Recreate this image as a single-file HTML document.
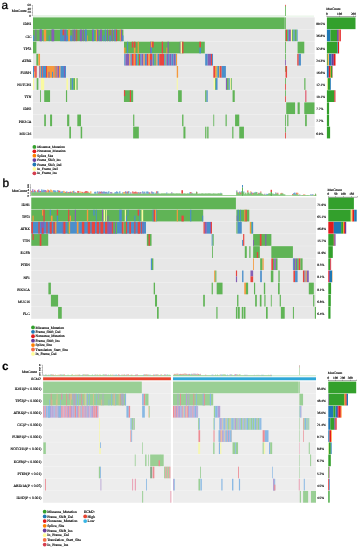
<!DOCTYPE html>
<html lang="en">
<head>
<meta charset="utf-8">
<title>Oncoplot figure</title>
<style>
html,body{margin:0;padding:0;background:#fff;}
body{width:359px;height:550px;overflow:hidden;}
svg{display:block;}
text{text-rendering:geometricPrecision;}
text.s{font-family:"Liberation Serif","DejaVu Serif",serif;fill:#000;stroke:#000;stroke-width:0.13px;}
text.n{font-family:"Liberation Sans","DejaVu Sans",sans-serif;fill:#000;stroke:#000;stroke-width:0.25px;}
</style>
</head>
<body>
<svg width="359" height="550" viewBox="0 0 359 550" shape-rendering="auto">
<defs><filter id="soft" x="0" y="0" width="359" height="550" filterUnits="userSpaceOnUse" color-interpolation-filters="sRGB"><feGaussianBlur stdDeviation="0.32"/></filter></defs>
<rect x="0" y="0" width="359" height="550" fill="#ffffff"/>
<g filter="url(#soft)">
<rect x="0" y="0" width="359" height="550" fill="#ffffff"/>
<text class="n" x="1.50" y="8.75" font-size="11.80" style="stroke-width:0.3px">a</text>
<rect x="32.45" y="5.20" width="0.30" height="10.60" fill="#333"/>
<rect x="31.70" y="5.08" width="0.90" height="0.25" fill="#333"/>
<text class="s" x="30.80" y="6.26" font-size="3.20" text-anchor="end">60</text>
<rect x="31.70" y="8.61" width="0.90" height="0.25" fill="#333"/>
<text class="s" x="30.80" y="9.79" font-size="3.20" text-anchor="end">40</text>
<rect x="31.70" y="12.15" width="0.90" height="0.25" fill="#333"/>
<text class="s" x="30.80" y="13.32" font-size="3.20" text-anchor="end">20</text>
<rect x="31.70" y="15.68" width="0.90" height="0.25" fill="#333"/>
<text class="s" x="30.80" y="16.86" font-size="3.20" text-anchor="end">0</text>
<text class="s" x="26.60" y="11.70" font-size="3.60" text-anchor="end">MutCount</text>
<rect x="33.00" y="15.75" width="252.00" height="0.50" fill="#9CD29A"/>
<rect x="285.00" y="6.00" width="0.80" height="10.10" fill="#60B456"/>
<rect x="285.00" y="4.80" width="0.80" height="1.40" fill="#E8453F"/>
<rect x="286.00" y="15.85" width="28.00" height="0.40" fill="#B8DFB6"/>
<rect x="33.00" y="17.41" width="281.60" height="121.00" fill="#F5F5F5"/>
<rect x="33.00" y="17.41" width="281.60" height="11.74" fill="#E7E7E7"/>
<rect x="33.00" y="17.41" width="251.70" height="11.74" fill="#60B456"/>
<rect x="285.00" y="17.41" width="0.80" height="11.74" fill="#60B456"/>
<rect x="33.00" y="29.55" width="281.60" height="11.74" fill="#E7E7E7"/>
<rect x="33.00" y="29.55" width="90.40" height="11.74" fill="#60B456"/>
<rect x="35.45" y="29.55" width="0.90" height="11.74" fill="#8560B5"/>
<rect x="40.20" y="29.55" width="0.90" height="11.74" fill="#8560B5"/>
<rect x="41.15" y="29.55" width="0.90" height="11.74" fill="#4A8FCB"/>
<rect x="43.05" y="35.42" width="0.90" height="5.87" fill="#4A8FCB"/>
<rect x="48.75" y="35.42" width="0.90" height="5.87" fill="#4A8FCB"/>
<rect x="51.60" y="29.55" width="0.90" height="11.74" fill="#8560B5"/>
<rect x="52.55" y="29.55" width="0.90" height="11.74" fill="#4A8FCB"/>
<rect x="65.85" y="29.55" width="0.90" height="11.74" fill="#4A8FCB"/>
<rect x="72.50" y="29.55" width="0.90" height="11.74" fill="#8560B5"/>
<rect x="76.30" y="29.55" width="0.90" height="11.74" fill="#E8453F"/>
<rect x="82.95" y="29.55" width="0.90" height="11.74" fill="#8560B5"/>
<rect x="84.85" y="29.55" width="0.90" height="11.74" fill="#8560B5"/>
<rect x="86.75" y="35.42" width="0.90" height="5.87" fill="#F59A3C"/>
<rect x="99.10" y="35.42" width="0.90" height="5.87" fill="#4A8FCB"/>
<rect x="102.90" y="35.42" width="0.90" height="5.87" fill="#4A8FCB"/>
<rect x="104.80" y="35.42" width="0.90" height="5.87" fill="#8560B5"/>
<rect x="109.55" y="29.55" width="0.90" height="11.74" fill="#E8453F"/>
<rect x="114.30" y="29.55" width="0.90" height="11.74" fill="#8560B5"/>
<rect x="120.00" y="35.42" width="0.90" height="5.87" fill="#4A8FCB"/>
<rect x="33.01" y="35.42" width="1.17" height="5.87" fill="#4A8FCB"/>
<rect x="39.53" y="29.55" width="2.17" height="11.74" fill="#8560B5"/>
<rect x="43.71" y="29.55" width="2.51" height="11.74" fill="#F59A3C"/>
<rect x="51.74" y="29.55" width="2.51" height="11.74" fill="#8560B5"/>
<rect x="60.10" y="29.55" width="2.51" height="11.74" fill="#4A8FCB"/>
<rect x="62.61" y="29.55" width="1.67" height="5.87" fill="#E8453F"/>
<rect x="62.61" y="35.42" width="1.67" height="5.87" fill="#4A8FCB"/>
<rect x="64.28" y="29.55" width="1.67" height="11.74" fill="#8560B5"/>
<rect x="65.95" y="35.42" width="2.17" height="5.87" fill="#4A8FCB"/>
<rect x="68.13" y="29.55" width="2.01" height="11.74" fill="#F59A3C"/>
<rect x="70.13" y="35.42" width="2.01" height="5.87" fill="#4A8FCB"/>
<rect x="73.81" y="29.55" width="1.67" height="11.74" fill="#8560B5"/>
<rect x="79.83" y="29.55" width="2.34" height="11.74" fill="#8560B5"/>
<rect x="85.18" y="29.55" width="1.67" height="11.74" fill="#4A8FCB"/>
<rect x="92.01" y="29.55" width="1.00" height="11.74" fill="#8560B5"/>
<rect x="93.01" y="29.55" width="1.17" height="11.74" fill="#4A8FCB"/>
<rect x="95.85" y="29.55" width="1.17" height="11.74" fill="#F59A3C"/>
<rect x="97.02" y="29.55" width="1.34" height="11.74" fill="#8560B5"/>
<rect x="100.03" y="29.55" width="2.01" height="11.74" fill="#8560B5"/>
<rect x="104.72" y="29.55" width="1.17" height="11.74" fill="#4A8FCB"/>
<rect x="107.06" y="29.55" width="1.00" height="11.74" fill="#8560B5"/>
<rect x="109.23" y="35.42" width="1.67" height="5.87" fill="#4A8FCB"/>
<rect x="111.74" y="29.55" width="1.17" height="11.74" fill="#8560B5"/>
<rect x="114.75" y="29.55" width="1.17" height="11.74" fill="#4A8FCB"/>
<rect x="115.92" y="29.55" width="1.17" height="11.74" fill="#E8453F"/>
<rect x="119.77" y="29.55" width="1.17" height="11.74" fill="#F59A3C"/>
<rect x="120.94" y="29.55" width="1.17" height="11.74" fill="#8560B5"/>
<rect x="122.11" y="35.42" width="1.34" height="5.87" fill="#4A8FCB"/>
<rect x="285.05" y="29.55" width="0.84" height="11.74" fill="#60B456"/>
<rect x="285.89" y="29.55" width="1.17" height="11.74" fill="#E8453F"/>
<rect x="287.06" y="29.55" width="1.00" height="11.74" fill="#60B456"/>
<rect x="288.06" y="29.55" width="0.84" height="11.74" fill="#4A8FCB"/>
<rect x="288.90" y="29.55" width="2.01" height="11.74" fill="#8560B5"/>
<rect x="290.90" y="29.55" width="1.17" height="11.74" fill="#FAFAA0"/>
<rect x="292.07" y="29.55" width="1.34" height="11.74" fill="#60B456"/>
<rect x="293.41" y="29.55" width="1.34" height="11.74" fill="#4A8FCB"/>
<rect x="294.75" y="29.55" width="2.01" height="11.74" fill="#60B456"/>
<rect x="296.76" y="29.55" width="0.84" height="11.74" fill="#4A8FCB"/>
<rect x="33.00" y="41.69" width="281.60" height="11.74" fill="#E7E7E7"/>
<rect x="33.00" y="41.69" width="3.40" height="11.74" fill="#60B456"/>
<rect x="124.00" y="41.69" width="80.80" height="11.74" fill="#60B456"/>
<rect x="123.95" y="47.56" width="1.51" height="5.87" fill="#F59A3C"/>
<rect x="127.12" y="41.69" width="1.00" height="11.74" fill="#4A8FCB"/>
<rect x="131.81" y="41.69" width="1.34" height="5.87" fill="#E8453F"/>
<rect x="133.81" y="47.56" width="1.67" height="5.87" fill="#F59A3C"/>
<rect x="133.81" y="41.69" width="1.67" height="5.87" fill="#E8453F"/>
<rect x="137.66" y="41.69" width="1.17" height="11.74" fill="#F59A3C"/>
<rect x="150.00" y="41.69" width="0.84" height="11.74" fill="#8560B5"/>
<rect x="150.84" y="41.69" width="1.17" height="5.87" fill="#F59A3C"/>
<rect x="150.84" y="47.56" width="1.17" height="5.87" fill="#4A8FCB"/>
<rect x="152.01" y="41.69" width="1.67" height="5.87" fill="#E8453F"/>
<rect x="161.71" y="41.69" width="1.34" height="11.74" fill="#E8453F"/>
<rect x="166.39" y="47.56" width="1.17" height="5.87" fill="#F59A3C"/>
<rect x="167.56" y="41.69" width="1.17" height="11.74" fill="#8560B5"/>
<rect x="179.77" y="41.69" width="0.84" height="11.74" fill="#8560B5"/>
<rect x="180.60" y="41.69" width="1.34" height="11.74" fill="#FAFAA0"/>
<rect x="182.11" y="41.69" width="1.34" height="11.74" fill="#E8453F"/>
<rect x="199.33" y="41.69" width="1.67" height="5.87" fill="#E8453F"/>
<rect x="199.33" y="47.56" width="1.67" height="5.87" fill="#4A8FCB"/>
<rect x="285.05" y="41.69" width="0.84" height="11.74" fill="#60B456"/>
<rect x="297.59" y="41.69" width="6.69" height="11.74" fill="#60B456"/>
<rect x="33.00" y="53.83" width="281.60" height="11.74" fill="#E7E7E7"/>
<rect x="36.35" y="53.83" width="2.01" height="11.74" fill="#60B456"/>
<rect x="38.36" y="53.83" width="1.67" height="11.74" fill="#F59A3C"/>
<rect x="124.28" y="53.83" width="1.17" height="11.74" fill="#4A8FCB"/>
<rect x="125.45" y="53.83" width="3.85" height="11.74" fill="#8560B5"/>
<rect x="129.30" y="53.83" width="1.17" height="11.74" fill="#F59A3C"/>
<rect x="130.47" y="53.83" width="1.34" height="11.74" fill="#4A8FCB"/>
<rect x="131.81" y="53.83" width="2.01" height="11.74" fill="#E8453F"/>
<rect x="133.81" y="53.83" width="1.34" height="11.74" fill="#F59A3C"/>
<rect x="135.15" y="53.83" width="0.84" height="11.74" fill="#E8453F"/>
<rect x="135.99" y="53.83" width="1.67" height="11.74" fill="#4A8FCB"/>
<rect x="137.66" y="53.83" width="1.34" height="11.74" fill="#60B456"/>
<rect x="139.00" y="53.83" width="1.17" height="11.74" fill="#E8453F"/>
<rect x="140.17" y="53.83" width="1.34" height="11.74" fill="#4A8FCB"/>
<rect x="141.51" y="53.83" width="2.01" height="11.74" fill="#8560B5"/>
<rect x="143.51" y="53.83" width="1.34" height="11.74" fill="#F59A3C"/>
<rect x="144.85" y="53.83" width="2.01" height="11.74" fill="#4A8FCB"/>
<rect x="146.86" y="53.83" width="1.67" height="11.74" fill="#E8453F"/>
<rect x="148.53" y="53.83" width="1.67" height="11.74" fill="#F59A3C"/>
<rect x="150.00" y="53.83" width="2.51" height="11.74" fill="#E8453F"/>
<rect x="150.00" y="59.70" width="1.67" height="5.87" fill="#8560B5"/>
<rect x="152.51" y="53.83" width="1.67" height="11.74" fill="#4A8FCB"/>
<rect x="154.18" y="53.83" width="1.67" height="11.74" fill="#60B456"/>
<rect x="155.85" y="53.83" width="0.50" height="11.74" fill="#8560B5"/>
<rect x="156.35" y="53.83" width="1.17" height="11.74" fill="#F59A3C"/>
<rect x="157.53" y="53.83" width="1.67" height="11.74" fill="#4A8FCB"/>
<rect x="159.20" y="53.83" width="5.02" height="11.74" fill="#E8453F"/>
<rect x="164.21" y="53.83" width="1.17" height="11.74" fill="#4A8FCB"/>
<rect x="165.38" y="53.83" width="1.00" height="11.74" fill="#60B456"/>
<rect x="166.39" y="53.83" width="1.67" height="11.74" fill="#8560B5"/>
<rect x="168.06" y="53.83" width="1.17" height="11.74" fill="#4A8FCB"/>
<rect x="169.23" y="53.83" width="2.17" height="11.74" fill="#8560B5"/>
<rect x="171.40" y="53.83" width="2.01" height="11.74" fill="#4A8FCB"/>
<rect x="173.41" y="53.83" width="1.67" height="11.74" fill="#8560B5"/>
<rect x="175.08" y="53.83" width="0.84" height="11.74" fill="#4A8FCB"/>
<rect x="175.92" y="53.83" width="1.17" height="11.74" fill="#F59A3C"/>
<rect x="205.18" y="53.83" width="2.51" height="11.74" fill="#4A8FCB"/>
<rect x="207.69" y="53.83" width="2.51" height="11.74" fill="#8560B5"/>
<rect x="210.00" y="53.83" width="1.00" height="11.74" fill="#8560B5"/>
<rect x="211.00" y="53.83" width="1.00" height="11.74" fill="#E8453F"/>
<rect x="212.01" y="53.83" width="1.00" height="11.74" fill="#4A8FCB"/>
<rect x="285.05" y="53.83" width="0.84" height="5.87" fill="#60B456"/>
<rect x="285.05" y="59.70" width="0.84" height="5.87" fill="#8560B5"/>
<rect x="297.26" y="53.83" width="1.51" height="11.74" fill="#E8453F"/>
<rect x="298.76" y="53.83" width="2.17" height="11.74" fill="#4A8FCB"/>
<rect x="33.00" y="65.97" width="281.60" height="11.74" fill="#E7E7E7"/>
<rect x="33.00" y="65.97" width="1.20" height="11.74" fill="#4A8FCB"/>
<rect x="34.20" y="65.97" width="1.00" height="5.87" fill="#E8453F"/>
<rect x="34.20" y="71.84" width="1.00" height="5.87" fill="#F59A3C"/>
<rect x="35.20" y="65.97" width="1.50" height="11.74" fill="#E8453F"/>
<rect x="39.00" y="65.97" width="0.80" height="11.74" fill="#8560B5"/>
<rect x="39.80" y="65.97" width="1.00" height="11.74" fill="#F59A3C"/>
<rect x="40.80" y="65.97" width="1.20" height="11.74" fill="#4A8FCB"/>
<rect x="42.00" y="65.97" width="0.80" height="11.74" fill="#E8453F"/>
<rect x="42.80" y="65.97" width="3.20" height="11.74" fill="#4A8FCB"/>
<rect x="46.00" y="65.97" width="1.00" height="11.74" fill="#E8453F"/>
<rect x="47.00" y="65.97" width="7.50" height="11.74" fill="#F59A3C"/>
<rect x="48.50" y="71.84" width="1.00" height="5.87" fill="#8560B5"/>
<rect x="52.00" y="71.84" width="1.00" height="5.87" fill="#4A8FCB"/>
<rect x="54.50" y="65.97" width="1.00" height="11.74" fill="#E8453F"/>
<rect x="55.50" y="65.97" width="0.90" height="11.74" fill="#60B456"/>
<rect x="56.40" y="65.97" width="1.10" height="11.74" fill="#E8453F"/>
<rect x="57.50" y="65.97" width="1.50" height="11.74" fill="#8560B5"/>
<rect x="59.00" y="65.97" width="1.50" height="11.74" fill="#F59A3C"/>
<rect x="60.50" y="65.97" width="3.50" height="11.74" fill="#4A8FCB"/>
<rect x="64.00" y="65.97" width="1.00" height="11.74" fill="#8560B5"/>
<rect x="65.00" y="65.97" width="1.00" height="11.74" fill="#4A8FCB"/>
<rect x="176.76" y="65.97" width="1.34" height="11.74" fill="#F59A3C"/>
<rect x="213.34" y="65.97" width="1.67" height="11.74" fill="#E8453F"/>
<rect x="215.02" y="65.97" width="1.67" height="11.74" fill="#F59A3C"/>
<rect x="216.69" y="65.97" width="0.84" height="11.74" fill="#60B456"/>
<rect x="217.53" y="65.97" width="1.67" height="11.74" fill="#4A8FCB"/>
<rect x="219.20" y="65.97" width="0.84" height="11.74" fill="#F59A3C"/>
<rect x="220.03" y="65.97" width="1.67" height="11.74" fill="#E8453F"/>
<rect x="221.71" y="65.97" width="4.18" height="11.74" fill="#4A8FCB"/>
<rect x="285.05" y="65.97" width="0.84" height="5.87" fill="#60B456"/>
<rect x="285.55" y="65.97" width="1.51" height="11.74" fill="#E8453F"/>
<rect x="33.00" y="78.11" width="281.60" height="11.74" fill="#E7E7E7"/>
<rect x="33.01" y="78.11" width="1.17" height="11.74" fill="#FAFAA0"/>
<rect x="36.69" y="78.11" width="1.67" height="11.74" fill="#60B456"/>
<rect x="40.87" y="78.11" width="3.34" height="11.74" fill="#FAFAA0"/>
<rect x="66.45" y="78.11" width="1.67" height="11.74" fill="#FAFAA0"/>
<rect x="70.13" y="78.11" width="1.67" height="11.74" fill="#60B456"/>
<rect x="71.81" y="78.11" width="1.34" height="11.74" fill="#4A8FCB"/>
<rect x="73.14" y="78.11" width="2.01" height="11.74" fill="#60B456"/>
<rect x="75.15" y="78.11" width="1.34" height="11.74" fill="#FAFAA0"/>
<rect x="76.49" y="78.11" width="1.17" height="11.74" fill="#60B456"/>
<rect x="176.76" y="78.11" width="1.00" height="11.74" fill="#FAFAA0"/>
<rect x="213.68" y="78.11" width="1.34" height="11.74" fill="#FAFAA0"/>
<rect x="215.02" y="78.11" width="0.84" height="11.74" fill="#60B456"/>
<rect x="215.85" y="78.11" width="1.67" height="11.74" fill="#4A8FCB"/>
<rect x="225.89" y="78.11" width="1.17" height="11.74" fill="#8560B5"/>
<rect x="227.06" y="78.11" width="1.67" height="11.74" fill="#60B456"/>
<rect x="228.73" y="78.11" width="1.00" height="11.74" fill="#4A8FCB"/>
<rect x="230.07" y="78.11" width="0.84" height="11.74" fill="#FAFAA0"/>
<rect x="230.90" y="78.11" width="0.84" height="11.74" fill="#60B456"/>
<rect x="285.05" y="78.11" width="0.84" height="5.87" fill="#60B456"/>
<rect x="285.05" y="83.98" width="0.84" height="5.87" fill="#E8453F"/>
<rect x="304.28" y="78.11" width="1.17" height="11.74" fill="#60B456"/>
<rect x="33.00" y="90.25" width="281.60" height="11.74" fill="#E7E7E7"/>
<rect x="40.03" y="90.25" width="0.84" height="11.74" fill="#60B456"/>
<rect x="44.21" y="90.25" width="5.85" height="11.74" fill="#60B456"/>
<rect x="65.95" y="90.25" width="1.17" height="11.74" fill="#60B456"/>
<rect x="123.95" y="90.25" width="9.20" height="11.74" fill="#60B456"/>
<rect x="123.95" y="90.25" width="1.17" height="5.87" fill="#E8453F"/>
<rect x="129.80" y="90.25" width="1.17" height="11.74" fill="#E8453F"/>
<rect x="178.09" y="90.25" width="3.68" height="11.74" fill="#60B456"/>
<rect x="205.18" y="90.25" width="1.34" height="11.74" fill="#60B456"/>
<rect x="206.52" y="90.25" width="1.17" height="11.74" fill="#4A8FCB"/>
<rect x="232.58" y="90.25" width="2.17" height="11.74" fill="#60B456"/>
<rect x="285.05" y="90.25" width="0.84" height="5.87" fill="#60B456"/>
<rect x="285.05" y="96.12" width="0.84" height="5.87" fill="#E8453F"/>
<rect x="305.12" y="90.25" width="1.34" height="11.74" fill="#E26A7C"/>
<rect x="33.00" y="102.39" width="281.60" height="11.74" fill="#E7E7E7"/>
<rect x="286.22" y="102.39" width="8.86" height="11.74" fill="#60B456"/>
<rect x="297.59" y="102.39" width="2.17" height="11.74" fill="#60B456"/>
<rect x="304.28" y="102.39" width="10.20" height="11.74" fill="#60B456"/>
<rect x="33.00" y="114.53" width="281.60" height="11.74" fill="#E7E7E7"/>
<rect x="44.21" y="114.53" width="1.67" height="11.74" fill="#60B456"/>
<rect x="50.07" y="114.53" width="2.01" height="11.74" fill="#60B456"/>
<rect x="67.12" y="114.53" width="2.17" height="11.74" fill="#60B456"/>
<rect x="77.32" y="114.53" width="3.68" height="11.74" fill="#60B456"/>
<rect x="133.14" y="114.53" width="1.17" height="11.74" fill="#60B456"/>
<rect x="182.11" y="114.53" width="1.34" height="11.74" fill="#60B456"/>
<rect x="213.34" y="114.53" width="0.84" height="11.74" fill="#60B456"/>
<rect x="225.55" y="114.53" width="1.17" height="11.74" fill="#60B456"/>
<rect x="235.08" y="114.53" width="4.18" height="11.74" fill="#60B456"/>
<rect x="285.05" y="114.53" width="0.84" height="11.74" fill="#60B456"/>
<rect x="287.22" y="114.53" width="1.17" height="11.74" fill="#60B456"/>
<rect x="305.12" y="114.53" width="1.67" height="11.74" fill="#60B456"/>
<rect x="33.00" y="126.67" width="281.60" height="11.74" fill="#E7E7E7"/>
<rect x="69.30" y="126.67" width="1.67" height="11.74" fill="#60B456"/>
<rect x="80.67" y="126.67" width="1.51" height="11.74" fill="#60B456"/>
<rect x="133.14" y="126.67" width="5.69" height="11.74" fill="#60B456"/>
<rect x="183.44" y="126.67" width="2.01" height="11.74" fill="#60B456"/>
<rect x="205.18" y="126.67" width="1.17" height="11.74" fill="#60B456"/>
<rect x="207.19" y="126.67" width="1.34" height="11.74" fill="#60B456"/>
<rect x="232.24" y="126.67" width="1.17" height="11.74" fill="#60B456"/>
<rect x="239.26" y="126.67" width="4.68" height="11.74" fill="#60B456"/>
<rect x="285.05" y="126.67" width="0.84" height="5.87" fill="#60B456"/>
<rect x="285.05" y="132.54" width="0.84" height="5.87" fill="#E8453F"/>
<text class="s" x="31.40" y="25.42" font-size="3.60" text-anchor="end">IDH1</text>
<text class="s" x="31.40" y="37.56" font-size="3.60" text-anchor="end">CIC</text>
<text class="s" x="31.40" y="49.70" font-size="3.60" text-anchor="end">TP53</text>
<text class="s" x="31.40" y="61.84" font-size="3.60" text-anchor="end">ATRX</text>
<text class="s" x="31.40" y="73.98" font-size="3.60" text-anchor="end">FUBP1</text>
<text class="s" x="31.40" y="86.12" font-size="3.60" text-anchor="end">NOTCH1</text>
<text class="s" x="31.40" y="98.26" font-size="3.60" text-anchor="end">TTN</text>
<text class="s" x="31.40" y="110.40" font-size="3.60" text-anchor="end">IDH2</text>
<text class="s" x="31.40" y="122.54" font-size="3.60" text-anchor="end">PIK3CA</text>
<text class="s" x="31.40" y="134.68" font-size="3.60" text-anchor="end">MUC16</text>
<text class="s" x="316.30" y="25.35" font-size="3.40">89.5%</text>
<text class="s" x="316.30" y="37.49" font-size="3.40">36.8%</text>
<text class="s" x="316.30" y="49.63" font-size="3.40">32.8%</text>
<text class="s" x="316.30" y="61.77" font-size="3.40">24.3%</text>
<text class="s" x="316.30" y="73.91" font-size="3.40">16.6%</text>
<text class="s" x="316.30" y="86.05" font-size="3.40">12.1%</text>
<text class="s" x="316.30" y="98.19" font-size="3.40">10.1%</text>
<text class="s" x="316.30" y="110.33" font-size="3.40">7.7%</text>
<text class="s" x="316.30" y="122.47" font-size="3.40">7.7%</text>
<text class="s" x="316.30" y="134.61" font-size="3.40">6.9%</text>
<rect x="326.90" y="17.41" width="28.60" height="11.74" fill="#33A02C"/>
<rect x="326.90" y="29.55" width="3.50" height="11.74" fill="#1F78B4"/>
<rect x="330.40" y="29.55" width="6.70" height="11.74" fill="#33A02C"/>
<rect x="337.10" y="29.55" width="1.70" height="11.74" fill="#6A3D9A"/>
<rect x="338.80" y="29.55" width="0.70" height="11.74" fill="#FF7F00"/>
<rect x="339.50" y="29.55" width="1.30" height="11.74" fill="#E31A1C"/>
<rect x="326.90" y="41.69" width="10.60" height="11.74" fill="#33A02C"/>
<rect x="337.50" y="41.69" width="0.50" height="11.74" fill="#1F78B4"/>
<rect x="338.00" y="41.69" width="1.10" height="11.74" fill="#E31A1C"/>
<rect x="326.90" y="53.83" width="0.90" height="11.74" fill="#33A02C"/>
<rect x="327.80" y="53.83" width="0.90" height="11.74" fill="#FF7F00"/>
<rect x="328.70" y="53.83" width="0.30" height="11.74" fill="#F4F48C"/>
<rect x="329.00" y="53.83" width="2.60" height="11.74" fill="#1F78B4"/>
<rect x="331.60" y="53.83" width="2.20" height="11.74" fill="#6A3D9A"/>
<rect x="333.80" y="53.83" width="1.70" height="11.74" fill="#E31A1C"/>
<rect x="326.90" y="65.97" width="1.90" height="11.74" fill="#1F78B4"/>
<rect x="328.80" y="65.97" width="1.20" height="11.74" fill="#E31A1C"/>
<rect x="330.00" y="65.97" width="0.80" height="11.74" fill="#FF7F00"/>
<rect x="330.80" y="65.97" width="1.50" height="11.74" fill="#33A02C"/>
<rect x="332.30" y="65.97" width="0.40" height="11.74" fill="#D53E4F"/>
<rect x="326.90" y="78.11" width="0.90" height="11.74" fill="#F4F48C"/>
<rect x="327.80" y="78.11" width="2.20" height="11.74" fill="#33A02C"/>
<rect x="330.00" y="78.11" width="0.80" height="11.74" fill="#1F78B4"/>
<rect x="326.90" y="90.25" width="7.50" height="11.74" fill="#33A02C"/>
<rect x="334.40" y="90.25" width="0.60" height="11.74" fill="#E31A1C"/>
<rect x="335.00" y="90.25" width="0.50" height="11.74" fill="#D53E4F"/>
<rect x="326.90" y="102.39" width="2.20" height="11.74" fill="#33A02C"/>
<rect x="326.90" y="114.53" width="2.20" height="11.74" fill="#33A02C"/>
<rect x="326.90" y="126.67" width="3.20" height="11.74" fill="#33A02C"/>
<rect x="326.70" y="16.40" width="29.20" height="0.40" fill="#333"/>
<rect x="355.70" y="15.60" width="0.35" height="1.00" fill="#333"/>
<rect x="326.75" y="15.60" width="0.35" height="1.00" fill="#333"/>
<text class="s" x="326.90" y="14.50" font-size="3.30" text-anchor="middle">0</text>
<rect x="339.45" y="15.60" width="0.35" height="1.00" fill="#333"/>
<text class="s" x="339.60" y="14.50" font-size="3.30" text-anchor="middle">100</text>
<rect x="353.25" y="15.60" width="0.35" height="1.00" fill="#333"/>
<text class="s" x="353.40" y="14.50" font-size="3.30" text-anchor="middle">200</text>
<text class="s" x="326.20" y="10.00" font-size="3.50">MutCount</text>
<circle cx="34.40" cy="146.90" r="1.90" fill="#33A02C"/>
<text class="s" x="37.20" y="148.02" font-size="3.50">Missense_Mutation</text>
<circle cx="34.40" cy="151.30" r="1.90" fill="#E31A1C"/>
<text class="s" x="37.20" y="152.42" font-size="3.50">Nonsense_Mutation</text>
<circle cx="34.40" cy="155.70" r="1.90" fill="#FF7F00"/>
<text class="s" x="37.20" y="156.82" font-size="3.50">Splice_Site</text>
<circle cx="34.40" cy="160.10" r="1.90" fill="#6A3D9A"/>
<text class="s" x="37.20" y="161.22" font-size="3.50">Frame_Shift_Ins</text>
<circle cx="34.40" cy="164.50" r="1.90" fill="#1F78B4"/>
<text class="s" x="37.20" y="165.62" font-size="3.50">Frame_Shift_Del</text>
<circle cx="34.40" cy="168.90" r="1.90" fill="#FFFF99"/>
<text class="s" x="37.20" y="170.02" font-size="3.50">In_Frame_Del</text>
<circle cx="34.40" cy="173.30" r="1.90" fill="#D53E4F"/>
<text class="s" x="37.20" y="174.42" font-size="3.50">In_Frame_Ins</text>
<text class="n" x="2.40" y="187.30" font-size="11.90" style="stroke-width:0.35px">b</text>
<rect x="30.55" y="184.60" width="0.30" height="11.20" fill="#333"/>
<rect x="29.80" y="184.48" width="0.90" height="0.25" fill="#333"/>
<text class="s" x="28.90" y="185.56" font-size="2.90" text-anchor="end">8</text>
<rect x="29.80" y="187.28" width="0.90" height="0.25" fill="#333"/>
<text class="s" x="28.90" y="188.36" font-size="2.90" text-anchor="end">6</text>
<rect x="29.80" y="190.08" width="0.90" height="0.25" fill="#333"/>
<text class="s" x="28.90" y="191.16" font-size="2.90" text-anchor="end">4</text>
<rect x="29.80" y="192.88" width="0.90" height="0.25" fill="#333"/>
<text class="s" x="28.90" y="193.96" font-size="2.90" text-anchor="end">2</text>
<rect x="29.80" y="195.68" width="0.90" height="0.25" fill="#333"/>
<text class="s" x="28.90" y="196.76" font-size="2.90" text-anchor="end">0</text>
<text class="s" x="26.70" y="192.10" font-size="3.60" text-anchor="end">MutCount</text>
<rect x="31.30" y="192.02" width="1.05" height="3.78" fill="#60B456"/>
<rect x="31.30" y="190.90" width="1.05" height="1.12" fill="#E8453F"/>
<rect x="32.30" y="192.36" width="1.05" height="3.44" fill="#60B456"/>
<rect x="32.30" y="189.18" width="1.05" height="3.18" fill="#8560B5"/>
<rect x="33.30" y="192.39" width="1.05" height="3.41" fill="#60B456"/>
<rect x="33.30" y="191.22" width="1.05" height="1.17" fill="#4A8FCB"/>
<rect x="34.30" y="192.18" width="1.05" height="3.62" fill="#60B456"/>
<rect x="34.30" y="189.82" width="1.05" height="2.36" fill="#E8453F"/>
<rect x="35.30" y="192.15" width="1.05" height="3.65" fill="#60B456"/>
<rect x="35.30" y="191.00" width="1.05" height="1.15" fill="#4A8FCB"/>
<rect x="36.30" y="192.24" width="1.05" height="3.56" fill="#60B456"/>
<rect x="37.30" y="192.18" width="1.05" height="3.62" fill="#60B456"/>
<rect x="37.30" y="190.17" width="1.05" height="2.01" fill="#E8453F"/>
<rect x="38.30" y="192.35" width="1.05" height="3.45" fill="#60B456"/>
<rect x="38.30" y="189.39" width="1.05" height="2.96" fill="#8560B5"/>
<rect x="39.30" y="192.36" width="1.05" height="3.44" fill="#60B456"/>
<rect x="39.30" y="190.91" width="1.05" height="1.45" fill="#4A8FCB"/>
<rect x="40.30" y="192.18" width="1.05" height="3.62" fill="#60B456"/>
<rect x="40.30" y="191.04" width="1.05" height="1.14" fill="#E8453F"/>
<rect x="41.30" y="192.20" width="1.05" height="3.60" fill="#60B456"/>
<rect x="41.30" y="189.34" width="1.05" height="2.87" fill="#4A8FCB"/>
<rect x="42.30" y="192.17" width="1.05" height="3.63" fill="#60B456"/>
<rect x="42.30" y="190.45" width="1.05" height="1.72" fill="#4A8FCB"/>
<rect x="43.30" y="192.12" width="1.05" height="3.68" fill="#60B456"/>
<rect x="43.30" y="189.74" width="1.05" height="2.38" fill="#4A8FCB"/>
<rect x="44.30" y="192.20" width="1.05" height="3.60" fill="#60B456"/>
<rect x="44.30" y="190.12" width="1.05" height="2.08" fill="#8560B5"/>
<rect x="45.30" y="192.01" width="1.05" height="3.79" fill="#60B456"/>
<rect x="45.30" y="190.00" width="1.05" height="2.00" fill="#8560B5"/>
<rect x="46.30" y="192.34" width="1.05" height="3.46" fill="#60B456"/>
<rect x="46.30" y="191.25" width="1.05" height="1.09" fill="#E8453F"/>
<rect x="47.30" y="192.37" width="1.05" height="3.43" fill="#60B456"/>
<rect x="47.30" y="189.48" width="1.05" height="2.89" fill="#F59A3C"/>
<rect x="48.30" y="192.26" width="1.05" height="3.54" fill="#60B456"/>
<rect x="48.30" y="190.07" width="1.05" height="2.19" fill="#E8453F"/>
<rect x="49.30" y="192.37" width="1.05" height="3.43" fill="#60B456"/>
<rect x="49.30" y="190.72" width="1.05" height="1.65" fill="#4A8FCB"/>
<rect x="50.30" y="192.13" width="1.05" height="3.67" fill="#60B456"/>
<rect x="50.30" y="189.45" width="1.05" height="2.68" fill="#F59A3C"/>
<rect x="51.30" y="192.17" width="1.05" height="3.63" fill="#60B456"/>
<rect x="51.30" y="190.10" width="1.05" height="2.07" fill="#F59A3C"/>
<rect x="52.30" y="192.25" width="1.05" height="3.55" fill="#60B456"/>
<rect x="52.30" y="191.19" width="1.05" height="1.05" fill="#F59A3C"/>
<rect x="53.30" y="192.26" width="1.05" height="3.54" fill="#60B456"/>
<rect x="53.30" y="190.07" width="1.05" height="2.18" fill="#4A8FCB"/>
<rect x="54.30" y="192.09" width="1.05" height="3.71" fill="#60B456"/>
<rect x="54.30" y="190.50" width="1.05" height="1.59" fill="#4A8FCB"/>
<rect x="55.30" y="192.03" width="1.05" height="3.77" fill="#60B456"/>
<rect x="55.30" y="190.63" width="1.05" height="1.40" fill="#4A8FCB"/>
<rect x="56.30" y="192.18" width="1.05" height="3.62" fill="#60B456"/>
<rect x="57.30" y="192.05" width="1.05" height="3.75" fill="#60B456"/>
<rect x="57.30" y="190.06" width="1.05" height="2.00" fill="#4A8FCB"/>
<rect x="58.30" y="192.13" width="1.05" height="3.67" fill="#60B456"/>
<rect x="58.30" y="190.57" width="1.05" height="1.55" fill="#E8453F"/>
<rect x="59.30" y="192.33" width="1.05" height="3.47" fill="#60B456"/>
<rect x="59.30" y="190.77" width="1.05" height="1.56" fill="#E8453F"/>
<rect x="60.30" y="192.77" width="1.05" height="3.03" fill="#60B456"/>
<rect x="60.30" y="191.72" width="1.05" height="1.05" fill="#4A8FCB"/>
<rect x="61.30" y="192.93" width="1.05" height="2.87" fill="#60B456"/>
<rect x="61.30" y="191.43" width="1.05" height="1.51" fill="#4A8FCB"/>
<rect x="62.30" y="192.82" width="1.05" height="2.98" fill="#60B456"/>
<rect x="62.30" y="191.24" width="1.05" height="1.59" fill="#4A8FCB"/>
<rect x="63.30" y="192.80" width="1.05" height="3.00" fill="#60B456"/>
<rect x="63.30" y="190.81" width="1.05" height="1.99" fill="#F59A3C"/>
<rect x="64.30" y="192.78" width="1.05" height="3.02" fill="#60B456"/>
<rect x="64.30" y="191.54" width="1.05" height="1.24" fill="#F59A3C"/>
<rect x="65.30" y="192.91" width="1.05" height="2.89" fill="#60B456"/>
<rect x="65.30" y="192.00" width="1.05" height="0.90" fill="#E8453F"/>
<rect x="66.30" y="192.92" width="1.05" height="2.88" fill="#60B456"/>
<rect x="66.30" y="191.36" width="1.05" height="1.56" fill="#4A8FCB"/>
<rect x="67.30" y="193.10" width="1.05" height="2.70" fill="#60B456"/>
<rect x="67.30" y="192.34" width="1.05" height="0.76" fill="#E8453F"/>
<rect x="68.30" y="192.85" width="1.05" height="2.95" fill="#60B456"/>
<rect x="68.30" y="191.92" width="1.05" height="0.93" fill="#E8453F"/>
<rect x="69.30" y="193.04" width="1.05" height="2.76" fill="#60B456"/>
<rect x="69.30" y="191.88" width="1.05" height="1.16" fill="#4A8FCB"/>
<rect x="70.30" y="192.91" width="1.05" height="2.89" fill="#60B456"/>
<rect x="70.30" y="191.53" width="1.05" height="1.38" fill="#E8453F"/>
<rect x="71.30" y="192.91" width="1.05" height="2.89" fill="#60B456"/>
<rect x="71.30" y="192.08" width="1.05" height="0.83" fill="#4A8FCB"/>
<rect x="72.30" y="192.96" width="1.05" height="2.84" fill="#60B456"/>
<rect x="72.30" y="191.04" width="1.05" height="1.93" fill="#F59A3C"/>
<rect x="73.30" y="192.89" width="1.05" height="2.91" fill="#60B456"/>
<rect x="73.30" y="190.77" width="1.05" height="2.12" fill="#4A8FCB"/>
<rect x="74.30" y="193.04" width="1.05" height="2.76" fill="#60B456"/>
<rect x="74.30" y="192.40" width="1.05" height="0.64" fill="#E8453F"/>
<rect x="75.30" y="192.98" width="1.05" height="2.82" fill="#60B456"/>
<rect x="75.30" y="192.24" width="1.05" height="0.75" fill="#8560B5"/>
<rect x="76.30" y="192.89" width="1.05" height="2.91" fill="#60B456"/>
<rect x="77.30" y="192.79" width="1.05" height="3.01" fill="#60B456"/>
<rect x="77.30" y="190.94" width="1.05" height="1.85" fill="#E8453F"/>
<rect x="78.30" y="192.85" width="1.05" height="2.95" fill="#60B456"/>
<rect x="78.30" y="190.98" width="1.05" height="1.86" fill="#E8453F"/>
<rect x="79.30" y="192.78" width="1.05" height="3.02" fill="#60B456"/>
<rect x="80.30" y="192.78" width="1.05" height="3.02" fill="#60B456"/>
<rect x="80.30" y="191.39" width="1.05" height="1.39" fill="#F59A3C"/>
<rect x="81.30" y="193.09" width="1.05" height="2.71" fill="#60B456"/>
<rect x="81.30" y="192.04" width="1.05" height="1.05" fill="#F59A3C"/>
<rect x="82.30" y="193.02" width="1.05" height="2.78" fill="#60B456"/>
<rect x="82.30" y="191.87" width="1.05" height="1.15" fill="#E8453F"/>
<rect x="83.30" y="192.70" width="1.05" height="3.10" fill="#60B456"/>
<rect x="84.30" y="193.07" width="1.05" height="2.73" fill="#60B456"/>
<rect x="84.30" y="191.72" width="1.05" height="1.35" fill="#E8453F"/>
<rect x="85.30" y="193.02" width="1.05" height="2.78" fill="#60B456"/>
<rect x="85.30" y="190.98" width="1.05" height="2.04" fill="#E8453F"/>
<rect x="86.30" y="192.91" width="1.05" height="2.89" fill="#60B456"/>
<rect x="86.30" y="191.03" width="1.05" height="1.88" fill="#E8453F"/>
<rect x="87.30" y="192.77" width="1.05" height="3.03" fill="#60B456"/>
<rect x="87.30" y="191.54" width="1.05" height="1.22" fill="#E8453F"/>
<rect x="88.30" y="192.80" width="1.05" height="3.00" fill="#60B456"/>
<rect x="88.30" y="191.91" width="1.05" height="0.89" fill="#F59A3C"/>
<rect x="89.30" y="192.97" width="1.05" height="2.83" fill="#60B456"/>
<rect x="90.30" y="193.58" width="1.05" height="2.22" fill="#60B456"/>
<rect x="90.30" y="191.27" width="1.05" height="2.31" fill="#F59A3C"/>
<rect x="91.30" y="193.65" width="1.05" height="2.15" fill="#60B456"/>
<rect x="92.30" y="193.65" width="1.05" height="2.15" fill="#60B456"/>
<rect x="93.30" y="193.66" width="1.05" height="2.14" fill="#60B456"/>
<rect x="94.30" y="193.50" width="1.05" height="2.30" fill="#60B456"/>
<rect x="94.30" y="191.82" width="1.05" height="1.68" fill="#4A8FCB"/>
<rect x="95.30" y="193.69" width="1.05" height="2.11" fill="#60B456"/>
<rect x="95.30" y="191.73" width="1.05" height="1.96" fill="#4A8FCB"/>
<rect x="96.30" y="193.54" width="1.05" height="2.26" fill="#60B456"/>
<rect x="97.30" y="193.40" width="1.05" height="2.40" fill="#60B456"/>
<rect x="97.30" y="191.21" width="1.05" height="2.20" fill="#4A8FCB"/>
<rect x="98.30" y="193.62" width="1.05" height="2.18" fill="#60B456"/>
<rect x="98.30" y="192.44" width="1.05" height="1.18" fill="#E8453F"/>
<rect x="99.30" y="193.60" width="1.05" height="2.20" fill="#60B456"/>
<rect x="99.30" y="191.47" width="1.05" height="2.13" fill="#8560B5"/>
<rect x="100.30" y="193.43" width="1.05" height="2.37" fill="#60B456"/>
<rect x="100.30" y="191.89" width="1.05" height="1.53" fill="#E8453F"/>
<rect x="101.30" y="193.46" width="1.05" height="2.34" fill="#60B456"/>
<rect x="101.30" y="191.33" width="1.05" height="2.12" fill="#8560B5"/>
<rect x="102.30" y="193.66" width="1.05" height="2.14" fill="#60B456"/>
<rect x="102.30" y="192.04" width="1.05" height="1.62" fill="#8560B5"/>
<rect x="103.30" y="193.47" width="1.05" height="2.33" fill="#60B456"/>
<rect x="103.30" y="191.43" width="1.05" height="2.04" fill="#4A8FCB"/>
<rect x="104.30" y="193.65" width="1.05" height="2.15" fill="#60B456"/>
<rect x="104.30" y="191.69" width="1.05" height="1.96" fill="#4A8FCB"/>
<rect x="105.30" y="193.68" width="1.05" height="2.12" fill="#60B456"/>
<rect x="105.30" y="192.03" width="1.05" height="1.65" fill="#8560B5"/>
<rect x="106.30" y="193.46" width="1.05" height="2.34" fill="#60B456"/>
<rect x="106.30" y="191.77" width="1.05" height="1.70" fill="#4A8FCB"/>
<rect x="107.30" y="193.64" width="1.05" height="2.16" fill="#60B456"/>
<rect x="107.30" y="192.69" width="1.05" height="0.96" fill="#4A8FCB"/>
<rect x="108.30" y="193.53" width="1.05" height="2.27" fill="#60B456"/>
<rect x="108.30" y="191.27" width="1.05" height="2.26" fill="#4A8FCB"/>
<rect x="109.30" y="193.60" width="1.05" height="2.20" fill="#60B456"/>
<rect x="110.30" y="193.55" width="1.05" height="2.25" fill="#60B456"/>
<rect x="110.30" y="192.02" width="1.05" height="1.52" fill="#8560B5"/>
<rect x="111.30" y="193.46" width="1.05" height="2.34" fill="#60B456"/>
<rect x="111.30" y="192.26" width="1.05" height="1.20" fill="#8560B5"/>
<rect x="112.30" y="193.44" width="1.05" height="2.36" fill="#60B456"/>
<rect x="113.30" y="193.42" width="1.05" height="2.38" fill="#60B456"/>
<rect x="114.30" y="193.45" width="1.05" height="2.35" fill="#60B456"/>
<rect x="114.30" y="192.45" width="1.05" height="0.99" fill="#4A8FCB"/>
<rect x="115.30" y="193.61" width="1.05" height="2.19" fill="#60B456"/>
<rect x="115.30" y="192.12" width="1.05" height="1.49" fill="#4A8FCB"/>
<rect x="116.30" y="193.50" width="1.05" height="2.30" fill="#60B456"/>
<rect x="116.30" y="191.26" width="1.05" height="2.24" fill="#4A8FCB"/>
<rect x="117.30" y="193.42" width="1.05" height="2.38" fill="#60B456"/>
<rect x="117.30" y="192.03" width="1.05" height="1.39" fill="#4A8FCB"/>
<rect x="118.30" y="193.44" width="1.05" height="2.36" fill="#60B456"/>
<rect x="119.30" y="193.48" width="1.05" height="2.32" fill="#60B456"/>
<rect x="119.30" y="191.26" width="1.05" height="2.22" fill="#4A8FCB"/>
<rect x="120.30" y="193.40" width="1.05" height="2.40" fill="#60B456"/>
<rect x="121.30" y="193.49" width="1.05" height="2.31" fill="#60B456"/>
<rect x="122.30" y="193.60" width="1.05" height="2.20" fill="#60B456"/>
<rect x="122.30" y="192.29" width="1.05" height="1.31" fill="#4A8FCB"/>
<rect x="123.30" y="193.59" width="1.05" height="2.21" fill="#60B456"/>
<rect x="123.30" y="192.06" width="1.05" height="1.53" fill="#F59A3C"/>
<rect x="124.30" y="193.69" width="1.05" height="2.11" fill="#60B456"/>
<rect x="124.30" y="191.90" width="1.05" height="1.80" fill="#F59A3C"/>
<rect x="125.30" y="193.41" width="1.05" height="2.39" fill="#60B456"/>
<rect x="125.30" y="191.14" width="1.05" height="2.27" fill="#8560B5"/>
<rect x="126.30" y="193.41" width="1.05" height="2.39" fill="#60B456"/>
<rect x="126.30" y="192.18" width="1.05" height="1.22" fill="#4A8FCB"/>
<rect x="127.30" y="193.43" width="1.05" height="2.37" fill="#60B456"/>
<rect x="127.30" y="191.42" width="1.05" height="2.01" fill="#E8453F"/>
<rect x="128.30" y="193.45" width="1.05" height="2.35" fill="#60B456"/>
<rect x="128.30" y="191.13" width="1.05" height="2.31" fill="#4A8FCB"/>
<rect x="129.30" y="193.66" width="1.05" height="2.14" fill="#60B456"/>
<rect x="130.30" y="193.55" width="1.05" height="2.25" fill="#60B456"/>
<rect x="130.30" y="192.31" width="1.05" height="1.25" fill="#8560B5"/>
<rect x="131.30" y="193.64" width="1.05" height="2.16" fill="#60B456"/>
<rect x="132.30" y="193.42" width="1.05" height="2.38" fill="#60B456"/>
<rect x="132.30" y="191.34" width="1.05" height="2.08" fill="#E8453F"/>
<rect x="133.30" y="193.52" width="1.05" height="2.28" fill="#60B456"/>
<rect x="133.30" y="192.29" width="1.05" height="1.22" fill="#E8453F"/>
<rect x="134.30" y="193.56" width="1.05" height="2.24" fill="#60B456"/>
<rect x="134.30" y="191.88" width="1.05" height="1.68" fill="#E8453F"/>
<rect x="135.30" y="193.51" width="1.05" height="2.29" fill="#60B456"/>
<rect x="135.30" y="191.58" width="1.05" height="1.94" fill="#E8453F"/>
<rect x="136.30" y="193.41" width="1.05" height="2.39" fill="#60B456"/>
<rect x="136.30" y="192.32" width="1.05" height="1.09" fill="#E8453F"/>
<rect x="137.30" y="193.51" width="1.05" height="2.29" fill="#60B456"/>
<rect x="137.30" y="192.38" width="1.05" height="1.13" fill="#E8453F"/>
<rect x="138.30" y="193.55" width="1.05" height="2.25" fill="#60B456"/>
<rect x="138.30" y="192.19" width="1.05" height="1.36" fill="#4A8FCB"/>
<rect x="139.30" y="193.40" width="1.05" height="2.40" fill="#60B456"/>
<rect x="139.30" y="192.57" width="1.05" height="0.83" fill="#E8453F"/>
<rect x="140.30" y="193.53" width="1.05" height="2.27" fill="#60B456"/>
<rect x="140.30" y="191.98" width="1.05" height="1.56" fill="#8560B5"/>
<rect x="141.30" y="193.67" width="1.05" height="2.13" fill="#60B456"/>
<rect x="142.30" y="193.50" width="1.05" height="2.30" fill="#60B456"/>
<rect x="142.30" y="191.28" width="1.05" height="2.22" fill="#4A8FCB"/>
<rect x="143.30" y="193.61" width="1.05" height="2.19" fill="#60B456"/>
<rect x="143.30" y="192.44" width="1.05" height="1.17" fill="#8560B5"/>
<rect x="144.30" y="193.45" width="1.05" height="2.35" fill="#60B456"/>
<rect x="144.30" y="191.63" width="1.05" height="1.82" fill="#4A8FCB"/>
<rect x="145.30" y="193.40" width="1.05" height="2.40" fill="#60B456"/>
<rect x="146.30" y="193.70" width="1.05" height="2.10" fill="#60B456"/>
<rect x="146.30" y="191.49" width="1.05" height="2.21" fill="#4A8FCB"/>
<rect x="147.30" y="193.65" width="1.05" height="2.15" fill="#60B456"/>
<rect x="147.30" y="191.50" width="1.05" height="2.15" fill="#4A8FCB"/>
<rect x="148.30" y="193.50" width="1.05" height="2.30" fill="#60B456"/>
<rect x="148.30" y="192.31" width="1.05" height="1.19" fill="#8560B5"/>
<rect x="149.30" y="193.69" width="1.05" height="2.11" fill="#60B456"/>
<rect x="149.30" y="192.46" width="1.05" height="1.23" fill="#E8453F"/>
<rect x="150.30" y="193.62" width="1.05" height="2.18" fill="#60B456"/>
<rect x="151.30" y="193.60" width="1.05" height="2.20" fill="#60B456"/>
<rect x="151.30" y="191.39" width="1.05" height="2.21" fill="#8560B5"/>
<rect x="152.30" y="193.59" width="1.05" height="2.21" fill="#60B456"/>
<rect x="152.30" y="192.18" width="1.05" height="1.41" fill="#4A8FCB"/>
<rect x="153.30" y="193.62" width="1.05" height="2.18" fill="#60B456"/>
<rect x="153.30" y="192.42" width="1.05" height="1.20" fill="#4A8FCB"/>
<rect x="154.30" y="193.67" width="1.05" height="2.13" fill="#60B456"/>
<rect x="155.30" y="193.58" width="1.05" height="2.22" fill="#60B456"/>
<rect x="155.30" y="192.74" width="1.05" height="0.84" fill="#4A8FCB"/>
<rect x="156.30" y="193.51" width="1.05" height="2.29" fill="#60B456"/>
<rect x="156.30" y="191.18" width="1.05" height="2.33" fill="#E8453F"/>
<rect x="157.30" y="193.50" width="1.05" height="2.30" fill="#60B456"/>
<rect x="157.30" y="191.30" width="1.05" height="2.21" fill="#4A8FCB"/>
<rect x="158.30" y="193.39" width="1.05" height="2.41" fill="#60B456"/>
<rect x="159.30" y="193.64" width="1.05" height="2.16" fill="#60B456"/>
<rect x="160.30" y="193.64" width="1.05" height="2.16" fill="#60B456"/>
<rect x="161.30" y="193.34" width="1.05" height="2.46" fill="#60B456"/>
<rect x="162.30" y="193.42" width="1.05" height="2.38" fill="#60B456"/>
<rect x="163.30" y="193.40" width="1.05" height="2.40" fill="#60B456"/>
<rect x="164.30" y="193.37" width="1.05" height="2.43" fill="#60B456"/>
<rect x="165.30" y="193.43" width="1.05" height="2.37" fill="#60B456"/>
<rect x="166.30" y="193.67" width="1.05" height="2.13" fill="#60B456"/>
<rect x="166.30" y="192.53" width="1.05" height="1.14" fill="#4A8FCB"/>
<rect x="167.30" y="193.55" width="1.05" height="2.25" fill="#60B456"/>
<rect x="168.30" y="193.45" width="1.05" height="2.35" fill="#60B456"/>
<rect x="169.30" y="193.60" width="1.05" height="2.20" fill="#60B456"/>
<rect x="170.30" y="193.38" width="1.05" height="2.42" fill="#60B456"/>
<rect x="171.30" y="193.34" width="1.05" height="2.46" fill="#60B456"/>
<rect x="171.30" y="192.31" width="1.05" height="1.03" fill="#8560B5"/>
<rect x="172.30" y="193.41" width="1.05" height="2.39" fill="#60B456"/>
<rect x="173.30" y="193.36" width="1.05" height="2.44" fill="#60B456"/>
<rect x="174.30" y="193.61" width="1.05" height="2.19" fill="#60B456"/>
<rect x="175.30" y="193.50" width="1.05" height="2.30" fill="#60B456"/>
<rect x="176.30" y="193.34" width="1.05" height="2.46" fill="#60B456"/>
<rect x="177.30" y="193.45" width="1.05" height="2.35" fill="#60B456"/>
<rect x="178.30" y="193.46" width="1.05" height="2.34" fill="#60B456"/>
<rect x="179.30" y="193.40" width="1.05" height="2.40" fill="#60B456"/>
<rect x="180.30" y="193.65" width="1.05" height="2.15" fill="#60B456"/>
<rect x="181.30" y="193.59" width="1.05" height="2.21" fill="#60B456"/>
<rect x="182.30" y="193.61" width="1.05" height="2.19" fill="#60B456"/>
<rect x="183.30" y="193.49" width="1.05" height="2.31" fill="#60B456"/>
<rect x="184.30" y="193.39" width="1.05" height="2.41" fill="#60B456"/>
<rect x="185.30" y="193.62" width="1.05" height="2.18" fill="#60B456"/>
<rect x="186.30" y="193.69" width="1.05" height="2.11" fill="#60B456"/>
<rect x="187.30" y="193.31" width="1.05" height="2.49" fill="#60B456"/>
<rect x="188.30" y="193.55" width="1.05" height="2.25" fill="#60B456"/>
<rect x="189.30" y="193.67" width="1.05" height="2.13" fill="#60B456"/>
<rect x="189.30" y="192.42" width="1.05" height="1.25" fill="#4A8FCB"/>
<rect x="190.30" y="193.32" width="1.05" height="2.48" fill="#60B456"/>
<rect x="190.30" y="192.00" width="1.05" height="1.32" fill="#E8453F"/>
<rect x="191.30" y="193.59" width="1.05" height="2.21" fill="#60B456"/>
<rect x="191.30" y="192.72" width="1.05" height="0.87" fill="#8560B5"/>
<rect x="192.30" y="193.34" width="1.05" height="2.46" fill="#60B456"/>
<rect x="193.30" y="193.64" width="1.05" height="2.16" fill="#60B456"/>
<rect x="194.30" y="193.52" width="1.05" height="2.28" fill="#60B456"/>
<rect x="195.30" y="193.53" width="1.05" height="2.27" fill="#60B456"/>
<rect x="196.30" y="193.36" width="1.05" height="2.44" fill="#60B456"/>
<rect x="196.30" y="192.11" width="1.05" height="1.25" fill="#E8453F"/>
<rect x="197.30" y="193.65" width="1.05" height="2.15" fill="#60B456"/>
<rect x="198.30" y="193.70" width="1.05" height="2.10" fill="#60B456"/>
<rect x="199.30" y="193.55" width="1.05" height="2.25" fill="#60B456"/>
<rect x="200.30" y="193.67" width="1.05" height="2.13" fill="#60B456"/>
<rect x="201.30" y="193.36" width="1.05" height="2.44" fill="#60B456"/>
<rect x="202.30" y="193.37" width="1.05" height="2.43" fill="#60B456"/>
<rect x="203.30" y="193.60" width="1.05" height="2.20" fill="#60B456"/>
<rect x="204.30" y="193.57" width="1.05" height="2.23" fill="#60B456"/>
<rect x="205.30" y="193.35" width="1.05" height="2.45" fill="#60B456"/>
<rect x="206.30" y="193.54" width="1.05" height="2.26" fill="#60B456"/>
<rect x="207.30" y="193.48" width="1.05" height="2.32" fill="#60B456"/>
<rect x="208.30" y="193.33" width="1.05" height="2.47" fill="#60B456"/>
<rect x="209.30" y="193.40" width="1.05" height="2.40" fill="#60B456"/>
<rect x="210.30" y="193.51" width="1.05" height="2.29" fill="#60B456"/>
<rect x="211.30" y="193.65" width="1.05" height="2.15" fill="#60B456"/>
<rect x="212.30" y="193.59" width="1.05" height="2.21" fill="#60B456"/>
<rect x="213.30" y="193.31" width="1.05" height="2.49" fill="#60B456"/>
<rect x="214.30" y="193.60" width="1.05" height="2.20" fill="#60B456"/>
<rect x="215.30" y="193.54" width="1.05" height="2.26" fill="#60B456"/>
<rect x="216.30" y="193.67" width="1.05" height="2.13" fill="#60B456"/>
<rect x="217.30" y="193.48" width="1.05" height="2.32" fill="#60B456"/>
<rect x="218.30" y="193.30" width="1.05" height="2.50" fill="#60B456"/>
<rect x="219.30" y="193.48" width="1.05" height="2.32" fill="#60B456"/>
<rect x="220.30" y="193.56" width="1.05" height="2.24" fill="#60B456"/>
<rect x="220.30" y="192.82" width="1.05" height="0.74" fill="#4A8FCB"/>
<rect x="221.30" y="193.38" width="1.05" height="2.42" fill="#60B456"/>
<rect x="222.30" y="195.10" width="1.05" height="0.70" fill="#60B456"/>
<rect x="223.30" y="195.10" width="1.05" height="0.70" fill="#60B456"/>
<rect x="224.30" y="195.10" width="1.05" height="0.70" fill="#60B456"/>
<rect x="225.30" y="195.10" width="1.05" height="0.70" fill="#60B456"/>
<rect x="226.30" y="195.10" width="1.05" height="0.70" fill="#60B456"/>
<rect x="227.30" y="195.10" width="1.05" height="0.70" fill="#60B456"/>
<rect x="228.30" y="195.10" width="1.05" height="0.70" fill="#60B456"/>
<rect x="229.30" y="195.10" width="1.05" height="0.70" fill="#60B456"/>
<rect x="230.30" y="195.10" width="1.05" height="0.70" fill="#60B456"/>
<rect x="231.30" y="195.10" width="1.05" height="0.70" fill="#60B456"/>
<rect x="232.30" y="195.10" width="1.05" height="0.70" fill="#60B456"/>
<rect x="233.30" y="195.10" width="1.05" height="0.70" fill="#60B456"/>
<rect x="234.30" y="195.10" width="1.05" height="0.70" fill="#60B456"/>
<rect x="235.30" y="195.10" width="1.05" height="0.70" fill="#60B456"/>
<rect x="236.30" y="191.79" width="1.05" height="4.01" fill="#60B456"/>
<rect x="236.30" y="190.49" width="1.05" height="1.30" fill="#8560B5"/>
<rect x="237.30" y="192.29" width="1.05" height="3.51" fill="#60B456"/>
<rect x="238.30" y="193.74" width="1.05" height="2.06" fill="#60B456"/>
<rect x="238.30" y="192.58" width="1.05" height="1.16" fill="#E8453F"/>
<rect x="239.30" y="193.29" width="1.05" height="2.51" fill="#60B456"/>
<rect x="239.30" y="191.55" width="1.05" height="1.74" fill="#4A8FCB"/>
<rect x="240.30" y="194.14" width="1.05" height="1.66" fill="#60B456"/>
<rect x="240.30" y="192.47" width="1.05" height="1.67" fill="#E8453F"/>
<rect x="241.30" y="191.79" width="1.05" height="4.01" fill="#60B456"/>
<rect x="241.30" y="191.09" width="1.05" height="0.70" fill="#4A8FCB"/>
<rect x="242.30" y="192.10" width="1.05" height="3.70" fill="#60B456"/>
<rect x="243.30" y="192.31" width="1.05" height="3.49" fill="#60B456"/>
<rect x="243.30" y="191.49" width="1.05" height="0.81" fill="#4A8FCB"/>
<rect x="244.30" y="194.20" width="1.05" height="1.60" fill="#60B456"/>
<rect x="245.30" y="192.69" width="1.05" height="3.11" fill="#60B456"/>
<rect x="246.30" y="194.26" width="1.05" height="1.54" fill="#60B456"/>
<rect x="247.30" y="192.31" width="1.05" height="3.49" fill="#60B456"/>
<rect x="247.30" y="190.42" width="1.05" height="1.89" fill="#E8453F"/>
<rect x="248.30" y="192.50" width="1.05" height="3.30" fill="#60B456"/>
<rect x="249.30" y="193.79" width="1.05" height="2.01" fill="#60B456"/>
<rect x="250.30" y="192.36" width="1.05" height="3.44" fill="#60B456"/>
<rect x="250.30" y="191.34" width="1.05" height="1.02" fill="#F59A3C"/>
<rect x="251.30" y="193.96" width="1.05" height="1.84" fill="#60B456"/>
<rect x="251.30" y="192.26" width="1.05" height="1.71" fill="#8560B5"/>
<rect x="252.30" y="194.47" width="1.05" height="1.33" fill="#60B456"/>
<rect x="252.30" y="193.23" width="1.05" height="1.24" fill="#E8453F"/>
<rect x="253.30" y="192.70" width="1.05" height="3.10" fill="#60B456"/>
<rect x="254.30" y="193.03" width="1.05" height="2.77" fill="#60B456"/>
<rect x="254.30" y="192.39" width="1.05" height="0.64" fill="#4A8FCB"/>
<rect x="255.30" y="192.53" width="1.05" height="3.27" fill="#60B456"/>
<rect x="255.30" y="191.90" width="1.05" height="0.63" fill="#4A8FCB"/>
<rect x="256.30" y="192.02" width="1.05" height="3.78" fill="#60B456"/>
<rect x="257.30" y="193.78" width="1.05" height="2.02" fill="#60B456"/>
<rect x="258.30" y="193.86" width="1.05" height="1.94" fill="#60B456"/>
<rect x="258.30" y="192.79" width="1.05" height="1.07" fill="#E8453F"/>
<rect x="259.30" y="193.49" width="1.05" height="2.31" fill="#60B456"/>
<rect x="259.30" y="192.88" width="1.05" height="0.61" fill="#4A8FCB"/>
<rect x="260.30" y="192.43" width="1.05" height="3.37" fill="#60B456"/>
<rect x="260.30" y="191.54" width="1.05" height="0.89" fill="#E8453F"/>
<rect x="261.30" y="193.63" width="1.05" height="2.17" fill="#60B456"/>
<rect x="262.30" y="194.11" width="1.05" height="1.69" fill="#60B456"/>
<rect x="263.30" y="194.71" width="1.05" height="1.09" fill="#60B456"/>
<rect x="264.30" y="194.58" width="1.05" height="1.22" fill="#60B456"/>
<rect x="264.30" y="193.75" width="1.05" height="0.83" fill="#8560B5"/>
<rect x="265.30" y="194.80" width="1.05" height="1.00" fill="#60B456"/>
<rect x="266.30" y="194.81" width="1.05" height="0.99" fill="#60B456"/>
<rect x="266.30" y="193.83" width="1.05" height="0.98" fill="#4A8FCB"/>
<rect x="267.30" y="194.81" width="1.05" height="0.99" fill="#60B456"/>
<rect x="267.30" y="194.00" width="1.05" height="0.81" fill="#4A8FCB"/>
<rect x="268.30" y="193.40" width="1.05" height="2.40" fill="#60B456"/>
<rect x="269.30" y="193.32" width="1.05" height="2.48" fill="#60B456"/>
<rect x="270.30" y="193.79" width="1.05" height="2.01" fill="#60B456"/>
<rect x="271.30" y="194.85" width="1.05" height="0.95" fill="#60B456"/>
<rect x="272.30" y="193.47" width="1.05" height="2.33" fill="#60B456"/>
<rect x="273.30" y="194.61" width="1.05" height="1.19" fill="#60B456"/>
<rect x="273.30" y="193.89" width="1.05" height="0.72" fill="#4A8FCB"/>
<rect x="274.30" y="194.19" width="1.05" height="1.61" fill="#60B456"/>
<rect x="275.30" y="193.26" width="1.05" height="2.54" fill="#60B456"/>
<rect x="275.30" y="192.48" width="1.05" height="0.79" fill="#8560B5"/>
<rect x="276.30" y="193.50" width="1.05" height="2.30" fill="#60B456"/>
<rect x="277.30" y="193.70" width="1.05" height="2.10" fill="#60B456"/>
<rect x="277.30" y="192.77" width="1.05" height="0.93" fill="#E8453F"/>
<rect x="278.30" y="194.57" width="1.05" height="1.23" fill="#60B456"/>
<rect x="279.30" y="194.85" width="1.05" height="0.95" fill="#60B456"/>
<rect x="280.30" y="193.60" width="1.05" height="2.20" fill="#60B456"/>
<rect x="280.30" y="193.07" width="1.05" height="0.53" fill="#F59A3C"/>
<rect x="281.30" y="193.53" width="1.05" height="2.27" fill="#60B456"/>
<rect x="281.30" y="192.88" width="1.05" height="0.66" fill="#E8453F"/>
<rect x="282.30" y="193.37" width="1.05" height="2.43" fill="#60B456"/>
<rect x="283.30" y="194.33" width="1.05" height="1.47" fill="#60B456"/>
<rect x="284.30" y="194.45" width="1.05" height="1.35" fill="#60B456"/>
<rect x="285.30" y="195.30" width="1.05" height="0.50" fill="#60B456"/>
<rect x="286.30" y="195.30" width="1.05" height="0.50" fill="#60B456"/>
<rect x="287.30" y="195.30" width="1.05" height="0.50" fill="#60B456"/>
<rect x="288.30" y="195.30" width="1.05" height="0.50" fill="#60B456"/>
<rect x="289.30" y="195.30" width="1.05" height="0.50" fill="#60B456"/>
<rect x="290.30" y="195.30" width="1.05" height="0.50" fill="#60B456"/>
<rect x="291.30" y="195.30" width="1.05" height="0.50" fill="#60B456"/>
<rect x="292.30" y="194.98" width="1.05" height="0.82" fill="#60B456"/>
<rect x="292.30" y="193.94" width="1.05" height="1.03" fill="#E8453F"/>
<rect x="293.30" y="194.28" width="1.05" height="1.52" fill="#60B456"/>
<rect x="293.30" y="193.02" width="1.05" height="1.27" fill="#4A8FCB"/>
<rect x="294.30" y="194.21" width="1.05" height="1.59" fill="#60B456"/>
<rect x="294.30" y="192.50" width="1.05" height="1.71" fill="#4A8FCB"/>
<rect x="295.30" y="194.87" width="1.05" height="0.93" fill="#60B456"/>
<rect x="295.30" y="193.57" width="1.05" height="1.30" fill="#4A8FCB"/>
<rect x="296.30" y="194.20" width="1.05" height="1.60" fill="#60B456"/>
<rect x="296.30" y="192.66" width="1.05" height="1.54" fill="#E8453F"/>
<rect x="297.30" y="194.23" width="1.05" height="1.57" fill="#60B456"/>
<rect x="297.30" y="192.82" width="1.05" height="1.41" fill="#F59A3C"/>
<rect x="298.30" y="195.01" width="1.05" height="0.79" fill="#60B456"/>
<rect x="299.30" y="195.32" width="1.05" height="0.48" fill="#60B456"/>
<rect x="299.30" y="194.47" width="1.05" height="0.85" fill="#8560B5"/>
<rect x="300.30" y="195.19" width="1.05" height="0.61" fill="#60B456"/>
<rect x="301.30" y="195.13" width="1.05" height="0.67" fill="#60B456"/>
<rect x="302.30" y="195.00" width="1.05" height="0.80" fill="#60B456"/>
<rect x="303.30" y="195.10" width="1.05" height="0.70" fill="#60B456"/>
<rect x="303.30" y="194.45" width="1.05" height="0.65" fill="#E8453F"/>
<rect x="304.30" y="194.96" width="1.05" height="0.84" fill="#60B456"/>
<rect x="304.30" y="194.48" width="1.05" height="0.48" fill="#F59A3C"/>
<rect x="305.30" y="195.10" width="1.05" height="0.70" fill="#60B456"/>
<rect x="306.30" y="195.13" width="1.05" height="0.67" fill="#60B456"/>
<rect x="307.30" y="195.04" width="1.05" height="0.76" fill="#60B456"/>
<rect x="308.30" y="195.12" width="1.05" height="0.68" fill="#60B456"/>
<rect x="309.30" y="195.25" width="1.05" height="0.55" fill="#60B456"/>
<rect x="310.30" y="195.25" width="1.05" height="0.55" fill="#60B456"/>
<rect x="310.30" y="194.32" width="1.05" height="0.93" fill="#4A8FCB"/>
<rect x="311.30" y="195.27" width="1.05" height="0.53" fill="#60B456"/>
<rect x="311.30" y="194.72" width="1.05" height="0.55" fill="#8560B5"/>
<rect x="312.30" y="195.15" width="1.05" height="0.65" fill="#60B456"/>
<rect x="312.30" y="194.26" width="1.05" height="0.89" fill="#4A8FCB"/>
<rect x="313.30" y="195.16" width="1.05" height="0.64" fill="#60B456"/>
<rect x="313.30" y="194.76" width="1.05" height="0.40" fill="#F59A3C"/>
<rect x="314.30" y="195.01" width="1.05" height="0.79" fill="#60B456"/>
<rect x="315.30" y="195.00" width="1.05" height="0.80" fill="#60B456"/>
<rect x="315.30" y="194.57" width="1.05" height="0.43" fill="#E8453F"/>
<rect x="242.00" y="185.00" width="1.00" height="2.60" fill="#4A8FCB"/>
<rect x="242.00" y="187.60" width="1.00" height="8.20" fill="#60B456"/>
<rect x="181.40" y="190.20" width="1.60" height="3.40" fill="#E8453F"/>
<rect x="196.30" y="191.50" width="0.80" height="2.50" fill="#60B456"/>
<rect x="270.60" y="189.80" width="1.40" height="2.20" fill="#E8453F"/>
<rect x="270.60" y="192.00" width="1.40" height="3.80" fill="#60B456"/>
<rect x="315.00" y="193.60" width="0.80" height="2.20" fill="#60B456"/>
<rect x="31.30" y="197.60" width="284.70" height="121.10" fill="#F5F5F5"/>
<rect x="31.30" y="197.60" width="284.70" height="11.75" fill="#E7E7E7"/>
<rect x="31.30" y="197.60" width="204.60" height="11.75" fill="#60B456"/>
<rect x="31.30" y="209.75" width="284.70" height="11.75" fill="#E7E7E7"/>
<rect x="31.30" y="209.75" width="171.90" height="11.75" fill="#60B456"/>
<rect x="32.51" y="215.62" width="1.17" height="5.88" fill="#F59A3C"/>
<rect x="42.04" y="209.75" width="1.34" height="5.88" fill="#F59A3C"/>
<rect x="43.38" y="209.75" width="1.34" height="11.75" fill="#E8453F"/>
<rect x="49.73" y="209.75" width="1.17" height="5.88" fill="#4A8FCB"/>
<rect x="50.90" y="215.62" width="1.67" height="5.88" fill="#F59A3C"/>
<rect x="56.76" y="209.75" width="1.34" height="5.88" fill="#E8453F"/>
<rect x="56.76" y="215.62" width="1.34" height="5.88" fill="#4A8FCB"/>
<rect x="68.13" y="209.75" width="1.17" height="11.75" fill="#E8453F"/>
<rect x="69.80" y="215.62" width="1.17" height="5.88" fill="#F59A3C"/>
<rect x="74.82" y="209.75" width="1.17" height="11.75" fill="#8560B5"/>
<rect x="86.86" y="209.75" width="1.34" height="11.75" fill="#F59A3C"/>
<rect x="93.34" y="209.75" width="1.34" height="5.88" fill="#4A8FCB"/>
<rect x="95.85" y="209.75" width="0.84" height="11.75" fill="#4A8FCB"/>
<rect x="102.04" y="209.75" width="1.00" height="11.75" fill="#8560B5"/>
<rect x="103.71" y="209.75" width="1.34" height="11.75" fill="#FAFAA0"/>
<rect x="105.89" y="209.75" width="0.84" height="11.75" fill="#FAFAA0"/>
<rect x="107.56" y="215.62" width="0.84" height="5.88" fill="#8560B5"/>
<rect x="119.26" y="209.75" width="2.51" height="11.75" fill="#4A8FCB"/>
<rect x="124.78" y="209.75" width="1.17" height="11.75" fill="#FAFAA0"/>
<rect x="125.95" y="215.62" width="1.17" height="5.88" fill="#4A8FCB"/>
<rect x="127.63" y="209.75" width="0.84" height="5.88" fill="#4A8FCB"/>
<rect x="134.31" y="215.62" width="1.17" height="5.88" fill="#4A8FCB"/>
<rect x="137.66" y="209.75" width="1.67" height="5.88" fill="#E8453F"/>
<rect x="139.33" y="209.75" width="0.84" height="11.75" fill="#4A8FCB"/>
<rect x="141.51" y="209.75" width="1.67" height="11.75" fill="#FAFAA0"/>
<rect x="152.51" y="209.75" width="1.17" height="11.75" fill="#4A8FCB"/>
<rect x="153.68" y="209.75" width="1.34" height="11.75" fill="#E8453F"/>
<rect x="155.02" y="209.75" width="1.34" height="11.75" fill="#F59A3C"/>
<rect x="156.35" y="209.75" width="0.67" height="11.75" fill="#4A8FCB"/>
<rect x="176.76" y="209.75" width="1.17" height="11.75" fill="#F59A3C"/>
<rect x="181.44" y="215.62" width="2.34" height="5.88" fill="#E8453F"/>
<rect x="190.13" y="209.75" width="1.17" height="11.75" fill="#4A8FCB"/>
<rect x="202.17" y="215.62" width="1.00" height="5.88" fill="#4A8FCB"/>
<rect x="236.42" y="209.75" width="12.88" height="11.75" fill="#60B456"/>
<rect x="236.76" y="215.62" width="0.84" height="5.88" fill="#8560B5"/>
<rect x="237.59" y="209.75" width="1.17" height="11.75" fill="#4A8FCB"/>
<rect x="240.10" y="209.75" width="0.84" height="11.75" fill="#4A8FCB"/>
<rect x="244.28" y="209.75" width="1.17" height="11.75" fill="#F59A3C"/>
<rect x="245.45" y="209.75" width="1.34" height="11.75" fill="#E8453F"/>
<rect x="31.30" y="221.90" width="284.70" height="11.75" fill="#E7E7E7"/>
<rect x="31.30" y="221.90" width="114.70" height="11.75" fill="#4A8FCB"/>
<rect x="31.34" y="221.90" width="1.67" height="11.75" fill="#E8453F"/>
<rect x="38.36" y="221.90" width="1.34" height="11.75" fill="#E8453F"/>
<rect x="40.87" y="221.90" width="3.34" height="11.75" fill="#8560B5"/>
<rect x="42.04" y="227.78" width="1.34" height="5.88" fill="#E8453F"/>
<rect x="46.39" y="221.90" width="1.17" height="11.75" fill="#E8453F"/>
<rect x="49.73" y="221.90" width="2.01" height="11.75" fill="#E8453F"/>
<rect x="53.41" y="221.90" width="1.34" height="11.75" fill="#E8453F"/>
<rect x="55.08" y="221.90" width="1.34" height="11.75" fill="#F59A3C"/>
<rect x="62.61" y="221.90" width="0.84" height="11.75" fill="#8560B5"/>
<rect x="63.44" y="221.90" width="2.01" height="11.75" fill="#E8453F"/>
<rect x="67.63" y="221.90" width="1.17" height="11.75" fill="#60B456"/>
<rect x="68.80" y="221.90" width="1.34" height="11.75" fill="#F59A3C"/>
<rect x="76.82" y="221.90" width="1.67" height="11.75" fill="#F59A3C"/>
<rect x="81.84" y="221.90" width="2.51" height="11.75" fill="#E8453F"/>
<rect x="87.69" y="221.90" width="2.51" height="11.75" fill="#E8453F"/>
<rect x="91.67" y="221.90" width="3.34" height="11.75" fill="#E8453F"/>
<rect x="96.69" y="221.90" width="2.51" height="11.75" fill="#E8453F"/>
<rect x="100.37" y="221.90" width="3.01" height="11.75" fill="#E8453F"/>
<rect x="105.05" y="221.90" width="2.51" height="11.75" fill="#E8453F"/>
<rect x="107.56" y="221.90" width="4.18" height="11.75" fill="#8560B5"/>
<rect x="111.74" y="221.90" width="1.67" height="11.75" fill="#E8453F"/>
<rect x="113.41" y="221.90" width="1.67" height="11.75" fill="#60B456"/>
<rect x="115.08" y="221.90" width="0.84" height="11.75" fill="#8560B5"/>
<rect x="115.92" y="221.90" width="1.17" height="11.75" fill="#60B456"/>
<rect x="121.77" y="221.90" width="1.67" height="11.75" fill="#E8453F"/>
<rect x="123.44" y="221.90" width="0.84" height="11.75" fill="#F59A3C"/>
<rect x="124.28" y="221.90" width="1.67" height="11.75" fill="#60B456"/>
<rect x="125.95" y="221.90" width="1.17" height="11.75" fill="#E8453F"/>
<rect x="129.30" y="221.90" width="1.67" height="11.75" fill="#E8453F"/>
<rect x="134.31" y="221.90" width="1.17" height="11.75" fill="#E8453F"/>
<rect x="137.66" y="221.90" width="2.51" height="11.75" fill="#E8453F"/>
<rect x="141.00" y="221.90" width="0.84" height="11.75" fill="#E8453F"/>
<rect x="142.68" y="221.90" width="0.84" height="11.75" fill="#8560B5"/>
<rect x="203.51" y="221.90" width="1.34" height="11.75" fill="#E8453F"/>
<rect x="204.85" y="221.90" width="2.01" height="11.75" fill="#8560B5"/>
<rect x="206.86" y="221.90" width="3.34" height="11.75" fill="#4A8FCB"/>
<rect x="210.00" y="221.90" width="1.00" height="11.75" fill="#8560B5"/>
<rect x="211.00" y="221.90" width="1.00" height="11.75" fill="#E8453F"/>
<rect x="236.42" y="221.90" width="1.17" height="11.75" fill="#60B456"/>
<rect x="237.59" y="221.90" width="4.18" height="11.75" fill="#4A8FCB"/>
<rect x="249.80" y="221.90" width="1.17" height="11.75" fill="#F59A3C"/>
<rect x="250.97" y="221.90" width="0.84" height="11.75" fill="#60B456"/>
<rect x="251.81" y="221.90" width="1.34" height="11.75" fill="#4A8FCB"/>
<rect x="31.30" y="234.05" width="284.70" height="11.75" fill="#E7E7E7"/>
<rect x="31.30" y="234.05" width="16.90" height="11.75" fill="#60B456"/>
<rect x="32.51" y="234.05" width="1.17" height="5.88" fill="#E8453F"/>
<rect x="39.70" y="234.05" width="1.67" height="11.75" fill="#E8453F"/>
<rect x="146.86" y="234.05" width="4.68" height="11.75" fill="#60B456"/>
<rect x="148.53" y="234.05" width="1.34" height="11.75" fill="#E8453F"/>
<rect x="211.67" y="234.05" width="1.00" height="11.75" fill="#4A8FCB"/>
<rect x="212.68" y="234.05" width="1.00" height="11.75" fill="#60B456"/>
<rect x="242.11" y="239.93" width="1.00" height="5.88" fill="#4A8FCB"/>
<rect x="243.11" y="234.05" width="1.17" height="11.75" fill="#E8453F"/>
<rect x="253.14" y="234.05" width="18.23" height="11.75" fill="#60B456"/>
<rect x="253.14" y="239.93" width="0.84" height="5.88" fill="#8560B5"/>
<rect x="259.83" y="234.05" width="1.67" height="11.75" fill="#E8453F"/>
<rect x="265.18" y="234.05" width="1.17" height="11.75" fill="#8560B5"/>
<rect x="31.30" y="246.20" width="284.70" height="11.75" fill="#E7E7E7"/>
<rect x="212.01" y="246.20" width="0.84" height="11.75" fill="#60B456"/>
<rect x="244.78" y="246.20" width="2.01" height="11.75" fill="#60B456"/>
<rect x="249.30" y="246.20" width="1.17" height="11.75" fill="#60B456"/>
<rect x="253.14" y="246.20" width="6.69" height="11.75" fill="#60B456"/>
<rect x="256.82" y="252.07" width="1.34" height="5.88" fill="#E8453F"/>
<rect x="271.34" y="246.20" width="21.57" height="11.75" fill="#60B456"/>
<rect x="31.30" y="258.35" width="284.70" height="11.75" fill="#E7E7E7"/>
<rect x="150.84" y="258.35" width="1.17" height="11.75" fill="#4A8FCB"/>
<rect x="152.01" y="258.35" width="1.34" height="11.75" fill="#60B456"/>
<rect x="253.14" y="258.35" width="0.84" height="11.75" fill="#F59A3C"/>
<rect x="260.17" y="258.35" width="2.34" height="11.75" fill="#60B456"/>
<rect x="262.51" y="258.35" width="1.17" height="11.75" fill="#F59A3C"/>
<rect x="271.34" y="258.35" width="1.67" height="11.75" fill="#E8453F"/>
<rect x="273.01" y="258.35" width="1.17" height="11.75" fill="#60B456"/>
<rect x="274.18" y="258.35" width="1.67" height="11.75" fill="#8560B5"/>
<rect x="275.85" y="258.35" width="1.67" height="11.75" fill="#60B456"/>
<rect x="292.91" y="258.35" width="1.00" height="11.75" fill="#4A8FCB"/>
<rect x="293.91" y="258.35" width="1.17" height="11.75" fill="#8560B5"/>
<rect x="295.08" y="258.35" width="0.84" height="11.75" fill="#60B456"/>
<rect x="295.92" y="258.35" width="1.17" height="11.75" fill="#8560B5"/>
<rect x="297.09" y="258.35" width="1.67" height="11.75" fill="#60B456"/>
<rect x="298.76" y="258.35" width="1.67" height="11.75" fill="#E8453F"/>
<rect x="300.43" y="258.35" width="2.17" height="11.75" fill="#60B456"/>
<rect x="31.30" y="270.50" width="284.70" height="11.75" fill="#E7E7E7"/>
<rect x="214.18" y="270.50" width="1.17" height="11.75" fill="#F59A3C"/>
<rect x="215.35" y="270.50" width="1.00" height="11.75" fill="#60B456"/>
<rect x="235.92" y="270.50" width="1.17" height="5.88" fill="#E8453F"/>
<rect x="235.92" y="276.38" width="1.17" height="5.88" fill="#8560B5"/>
<rect x="242.11" y="270.50" width="1.34" height="11.75" fill="#4A8FCB"/>
<rect x="250.47" y="270.50" width="2.68" height="5.88" fill="#8560B5"/>
<rect x="250.47" y="276.38" width="2.68" height="5.88" fill="#E8453F"/>
<rect x="260.17" y="270.50" width="1.67" height="11.75" fill="#4A8FCB"/>
<rect x="270.84" y="270.50" width="2.51" height="11.75" fill="#60B456"/>
<rect x="278.36" y="270.50" width="1.34" height="11.75" fill="#60B456"/>
<rect x="293.41" y="270.50" width="1.67" height="11.75" fill="#E8453F"/>
<rect x="295.08" y="270.50" width="2.51" height="11.75" fill="#4A8FCB"/>
<rect x="302.94" y="270.50" width="1.67" height="11.75" fill="#E8453F"/>
<rect x="304.62" y="270.50" width="1.00" height="11.75" fill="#4A8FCB"/>
<rect x="305.62" y="270.50" width="1.17" height="11.75" fill="#F59A3C"/>
<rect x="306.79" y="270.50" width="2.01" height="11.75" fill="#8560B5"/>
<rect x="31.30" y="282.65" width="284.70" height="11.75" fill="#E7E7E7"/>
<rect x="48.39" y="282.65" width="2.51" height="11.75" fill="#60B456"/>
<rect x="153.68" y="282.65" width="1.34" height="11.75" fill="#60B456"/>
<rect x="211.67" y="282.65" width="1.17" height="11.75" fill="#60B456"/>
<rect x="216.69" y="282.65" width="5.85" height="11.75" fill="#60B456"/>
<rect x="244.28" y="282.65" width="1.67" height="11.75" fill="#F59A3C"/>
<rect x="245.95" y="282.65" width="2.17" height="11.75" fill="#60B456"/>
<rect x="253.98" y="282.65" width="1.17" height="11.75" fill="#60B456"/>
<rect x="263.85" y="282.65" width="1.34" height="11.75" fill="#60B456"/>
<rect x="278.03" y="282.65" width="1.67" height="11.75" fill="#60B456"/>
<rect x="308.80" y="282.65" width="5.02" height="11.75" fill="#60B456"/>
<rect x="31.30" y="294.80" width="284.70" height="11.75" fill="#E7E7E7"/>
<rect x="50.90" y="294.80" width="7.19" height="11.75" fill="#60B456"/>
<rect x="155.02" y="294.80" width="2.01" height="11.75" fill="#60B456"/>
<rect x="203.18" y="294.80" width="1.67" height="11.75" fill="#60B456"/>
<rect x="237.09" y="294.80" width="1.34" height="11.75" fill="#60B456"/>
<rect x="255.15" y="294.80" width="1.67" height="11.75" fill="#60B456"/>
<rect x="259.83" y="294.80" width="1.67" height="11.75" fill="#60B456"/>
<rect x="264.35" y="294.80" width="1.17" height="11.75" fill="#60B456"/>
<rect x="270.84" y="294.80" width="0.84" height="11.75" fill="#60B456"/>
<rect x="279.70" y="294.80" width="1.17" height="11.75" fill="#60B456"/>
<rect x="313.14" y="294.80" width="1.17" height="11.75" fill="#60B456"/>
<rect x="31.30" y="306.95" width="284.70" height="11.75" fill="#E7E7E7"/>
<rect x="58.09" y="306.95" width="3.68" height="11.75" fill="#60B456"/>
<rect x="157.02" y="306.95" width="1.67" height="11.75" fill="#60B456"/>
<rect x="216.35" y="306.95" width="1.17" height="11.75" fill="#60B456"/>
<rect x="235.92" y="306.95" width="1.17" height="11.75" fill="#60B456"/>
<rect x="237.59" y="306.95" width="2.17" height="11.75" fill="#60B456"/>
<rect x="241.77" y="306.95" width="1.67" height="11.75" fill="#60B456"/>
<rect x="243.95" y="306.95" width="1.51" height="11.75" fill="#60B456"/>
<rect x="266.02" y="306.95" width="1.67" height="11.75" fill="#60B456"/>
<rect x="280.87" y="306.95" width="3.85" height="11.75" fill="#60B456"/>
<rect x="292.91" y="306.95" width="1.00" height="11.75" fill="#60B456"/>
<rect x="314.82" y="306.95" width="1.17" height="11.75" fill="#60B456"/>
<text class="s" x="29.80" y="205.61" font-size="3.60" text-anchor="end">IDH1</text>
<text class="s" x="29.80" y="217.76" font-size="3.60" text-anchor="end">TP53</text>
<text class="s" x="29.80" y="229.91" font-size="3.60" text-anchor="end">ATRX</text>
<text class="s" x="29.80" y="242.06" font-size="3.60" text-anchor="end">TTN</text>
<text class="s" x="29.80" y="254.21" font-size="3.60" text-anchor="end">EGFR</text>
<text class="s" x="29.80" y="266.36" font-size="3.60" text-anchor="end">PTEN</text>
<text class="s" x="29.80" y="278.51" font-size="3.60" text-anchor="end">NF1</text>
<text class="s" x="29.80" y="290.66" font-size="3.60" text-anchor="end">PIK3CA</text>
<text class="s" x="29.80" y="302.81" font-size="3.60" text-anchor="end">MUC16</text>
<text class="s" x="29.80" y="314.96" font-size="3.60" text-anchor="end">FLG</text>
<text class="s" x="317.30" y="205.55" font-size="3.40">71.9%</text>
<text class="s" x="317.30" y="217.70" font-size="3.40">65.1%</text>
<text class="s" x="317.30" y="229.85" font-size="3.40">46.8%</text>
<text class="s" x="317.30" y="242.00" font-size="3.40">15.7%</text>
<text class="s" x="317.30" y="254.15" font-size="3.40">11.9%</text>
<text class="s" x="317.30" y="266.30" font-size="3.40">8.5%</text>
<text class="s" x="317.30" y="278.45" font-size="3.40">8.1%</text>
<text class="s" x="317.30" y="290.60" font-size="3.40">8.1%</text>
<text class="s" x="317.30" y="302.75" font-size="3.40">6.8%</text>
<text class="s" x="317.30" y="314.90" font-size="3.40">6.4%</text>
<rect x="328.30" y="197.60" width="25.60" height="11.75" fill="#33A02C"/>
<rect x="328.30" y="209.75" width="22.50" height="11.75" fill="#33A02C"/>
<rect x="350.80" y="209.75" width="0.90" height="11.75" fill="#F4F48C"/>
<rect x="351.70" y="209.75" width="0.80" height="11.75" fill="#FF7F00"/>
<rect x="352.50" y="209.75" width="1.70" height="11.75" fill="#E31A1C"/>
<rect x="354.20" y="209.75" width="2.50" height="11.75" fill="#1F78B4"/>
<rect x="328.30" y="221.90" width="5.50" height="11.75" fill="#E31A1C"/>
<rect x="333.80" y="221.90" width="7.30" height="11.75" fill="#1F78B4"/>
<rect x="341.10" y="221.90" width="2.20" height="11.75" fill="#33A02C"/>
<rect x="343.30" y="221.90" width="0.80" height="11.75" fill="#FF7F00"/>
<rect x="344.10" y="221.90" width="0.90" height="11.75" fill="#E31A1C"/>
<rect x="345.00" y="221.90" width="1.20" height="11.75" fill="#6A3D9A"/>
<rect x="328.30" y="234.05" width="5.50" height="11.75" fill="#33A02C"/>
<rect x="333.80" y="234.05" width="0.70" height="11.75" fill="#E31A1C"/>
<rect x="334.50" y="234.05" width="1.00" height="11.75" fill="#6A3D9A"/>
<rect x="328.30" y="246.20" width="4.50" height="11.75" fill="#33A02C"/>
<rect x="328.30" y="258.35" width="1.70" height="11.75" fill="#33A02C"/>
<rect x="330.00" y="258.35" width="0.40" height="11.75" fill="#6A3D9A"/>
<rect x="330.40" y="258.35" width="0.70" height="11.75" fill="#E31A1C"/>
<rect x="328.30" y="270.50" width="0.80" height="11.75" fill="#E31A1C"/>
<rect x="329.10" y="270.50" width="0.90" height="11.75" fill="#6A3D9A"/>
<rect x="330.00" y="270.50" width="2.10" height="11.75" fill="#1F78B4"/>
<rect x="332.10" y="270.50" width="0.30" height="11.75" fill="#FF7F00"/>
<rect x="328.30" y="282.65" width="2.80" height="11.75" fill="#33A02C"/>
<rect x="328.30" y="294.80" width="2.50" height="11.75" fill="#33A02C"/>
<rect x="328.30" y="306.95" width="2.20" height="11.75" fill="#33A02C"/>
<rect x="328.10" y="196.90" width="29.30" height="0.40" fill="#333"/>
<rect x="357.20" y="196.10" width="0.35" height="1.00" fill="#333"/>
<rect x="328.15" y="196.10" width="0.35" height="1.00" fill="#333"/>
<text class="s" x="328.30" y="195.00" font-size="3.30" text-anchor="middle">0</text>
<rect x="335.65" y="196.10" width="0.35" height="1.00" fill="#333"/>
<text class="s" x="335.80" y="195.00" font-size="3.30" text-anchor="middle">50</text>
<rect x="343.15" y="196.10" width="0.35" height="1.00" fill="#333"/>
<text class="s" x="343.30" y="195.00" font-size="3.30" text-anchor="middle">100</text>
<rect x="351.55" y="196.10" width="0.35" height="1.00" fill="#333"/>
<text class="s" x="351.70" y="195.00" font-size="3.30" text-anchor="middle">150</text>
<text class="s" x="327.40" y="190.90" font-size="3.50">MutCount</text>
<circle cx="33.00" cy="327.40" r="1.90" fill="#33A02C"/>
<text class="s" x="35.60" y="328.55" font-size="3.60">Missense_Mutation</text>
<circle cx="33.00" cy="331.82" r="1.90" fill="#1F78B4"/>
<text class="s" x="35.60" y="332.97" font-size="3.60">Frame_Shift_Del</text>
<circle cx="33.00" cy="336.24" r="1.90" fill="#E31A1C"/>
<text class="s" x="35.60" y="337.39" font-size="3.60">Nonsense_Mutation</text>
<circle cx="33.00" cy="340.66" r="1.90" fill="#6A3D9A"/>
<text class="s" x="35.60" y="341.81" font-size="3.60">Frame_Shift_Ins</text>
<circle cx="33.00" cy="345.08" r="1.90" fill="#FF7F00"/>
<text class="s" x="35.60" y="346.23" font-size="3.60">Splice_Site</text>
<circle cx="33.00" cy="349.50" r="1.90" fill="#F46D43"/>
<text class="s" x="35.60" y="350.65" font-size="3.60">Translation_Start_Site</text>
<circle cx="33.00" cy="353.92" r="1.90" fill="#FFFF99"/>
<text class="s" x="35.60" y="355.07" font-size="3.60">In_Frame_Del</text>
<text class="n" x="2.10" y="370.10" font-size="11.80" font-weight="bold" style="stroke-width:0.08px">c</text>
<rect x="42.35" y="365.00" width="0.30" height="10.40" fill="#333"/>
<rect x="41.60" y="364.88" width="0.90" height="0.25" fill="#333"/>
<text class="s" x="40.50" y="365.96" font-size="2.90" text-anchor="end">8</text>
<rect x="41.60" y="367.48" width="0.90" height="0.25" fill="#333"/>
<text class="s" x="40.50" y="368.56" font-size="2.90" text-anchor="end">6</text>
<rect x="41.60" y="370.08" width="0.90" height="0.25" fill="#333"/>
<text class="s" x="40.50" y="371.16" font-size="2.90" text-anchor="end">4</text>
<rect x="41.60" y="372.68" width="0.90" height="0.25" fill="#333"/>
<text class="s" x="40.50" y="373.76" font-size="2.90" text-anchor="end">2</text>
<rect x="41.60" y="375.28" width="0.90" height="0.25" fill="#333"/>
<text class="s" x="40.50" y="376.36" font-size="2.90" text-anchor="end">0</text>
<text class="s" x="36.80" y="372.60" font-size="3.60" text-anchor="end">MutCount</text>
<rect x="43.10" y="375.30" width="127.80" height="0.90" fill="#8CCB88"/>
<rect x="173.00" y="375.30" width="99.00" height="0.90" fill="#8CCB88"/>
<rect x="272.00" y="375.30" width="44.00" height="0.90" fill="#C4E6C0"/>
<rect x="43.30" y="374.52" width="0.90" height="1.00" fill="#B5A0D4"/>
<rect x="45.10" y="374.53" width="0.90" height="1.00" fill="#9ACF95"/>
<rect x="46.00" y="374.63" width="0.90" height="1.00" fill="#B5A0D4"/>
<rect x="47.80" y="374.59" width="0.90" height="1.00" fill="#9ACF95"/>
<rect x="49.60" y="374.56" width="0.90" height="1.00" fill="#88B8E4"/>
<rect x="50.50" y="374.36" width="0.90" height="1.00" fill="#9ACF95"/>
<rect x="51.40" y="374.31" width="0.90" height="1.00" fill="#EE8A92"/>
<rect x="52.30" y="374.60" width="0.90" height="1.00" fill="#9ACF95"/>
<rect x="53.20" y="374.61" width="0.90" height="1.00" fill="#EE8A92"/>
<rect x="55.00" y="374.59" width="0.90" height="1.00" fill="#E8B98A"/>
<rect x="57.70" y="374.62" width="0.90" height="1.00" fill="#E8B98A"/>
<rect x="59.50" y="374.45" width="0.90" height="1.00" fill="#EE8A92"/>
<rect x="60.40" y="374.39" width="0.90" height="1.00" fill="#9ACF95"/>
<rect x="61.30" y="374.55" width="0.90" height="1.00" fill="#B5A0D4"/>
<rect x="62.20" y="374.63" width="0.90" height="1.00" fill="#9ACF95"/>
<rect x="63.10" y="374.53" width="0.90" height="1.00" fill="#9ACF95"/>
<rect x="64.00" y="374.43" width="0.90" height="1.00" fill="#EE8A92"/>
<rect x="67.60" y="374.64" width="0.90" height="1.00" fill="#9ACF95"/>
<rect x="71.20" y="374.63" width="0.90" height="1.00" fill="#9ACF95"/>
<rect x="72.10" y="374.35" width="0.90" height="1.00" fill="#E8B98A"/>
<rect x="74.80" y="374.62" width="0.90" height="1.00" fill="#E8B98A"/>
<rect x="76.60" y="374.47" width="0.90" height="1.00" fill="#E8B98A"/>
<rect x="78.40" y="374.55" width="0.90" height="1.00" fill="#EE8A92"/>
<rect x="79.30" y="374.53" width="0.90" height="1.00" fill="#9ACF95"/>
<rect x="82.00" y="374.70" width="0.90" height="1.00" fill="#B5A0D4"/>
<rect x="82.90" y="374.34" width="0.90" height="1.00" fill="#9ACF95"/>
<rect x="83.80" y="374.38" width="0.90" height="1.00" fill="#E8B98A"/>
<rect x="84.70" y="374.41" width="0.90" height="1.00" fill="#9ACF95"/>
<rect x="85.60" y="374.65" width="0.90" height="1.00" fill="#B5A0D4"/>
<rect x="86.50" y="374.36" width="0.90" height="1.00" fill="#EE8A92"/>
<rect x="87.40" y="374.48" width="0.90" height="1.00" fill="#9ACF95"/>
<rect x="88.30" y="374.65" width="0.90" height="1.00" fill="#9ACF95"/>
<rect x="91.90" y="374.47" width="0.90" height="1.00" fill="#9ACF95"/>
<rect x="94.60" y="374.40" width="0.90" height="1.00" fill="#B5A0D4"/>
<rect x="95.50" y="374.30" width="0.90" height="1.00" fill="#E8B98A"/>
<rect x="97.30" y="374.45" width="0.90" height="1.00" fill="#9ACF95"/>
<rect x="99.10" y="374.55" width="0.90" height="1.00" fill="#E8B98A"/>
<rect x="100.00" y="374.67" width="0.90" height="1.00" fill="#9ACF95"/>
<rect x="102.70" y="374.32" width="0.90" height="1.00" fill="#9ACF95"/>
<rect x="103.60" y="374.45" width="0.90" height="1.00" fill="#9ACF95"/>
<rect x="104.50" y="374.54" width="0.90" height="1.00" fill="#B5A0D4"/>
<rect x="105.40" y="374.37" width="0.90" height="1.00" fill="#EE8A92"/>
<rect x="106.30" y="374.54" width="0.90" height="1.00" fill="#B5A0D4"/>
<rect x="108.10" y="374.63" width="0.90" height="1.00" fill="#9ACF95"/>
<rect x="109.90" y="374.50" width="0.90" height="1.00" fill="#9ACF95"/>
<rect x="111.70" y="374.37" width="0.90" height="1.00" fill="#E8B98A"/>
<rect x="113.50" y="374.54" width="0.90" height="1.00" fill="#B5A0D4"/>
<rect x="115.30" y="374.62" width="0.90" height="1.00" fill="#88B8E4"/>
<rect x="116.20" y="374.60" width="0.90" height="1.00" fill="#88B8E4"/>
<rect x="118.00" y="374.39" width="0.90" height="1.00" fill="#EE8A92"/>
<rect x="118.90" y="374.68" width="0.90" height="1.00" fill="#B5A0D4"/>
<rect x="121.60" y="374.41" width="0.90" height="1.00" fill="#EE8A92"/>
<rect x="123.40" y="374.55" width="0.90" height="1.00" fill="#9ACF95"/>
<rect x="124.30" y="374.42" width="0.90" height="1.00" fill="#EE8A92"/>
<rect x="126.10" y="374.55" width="0.90" height="1.00" fill="#B5A0D4"/>
<rect x="127.00" y="374.46" width="0.90" height="1.00" fill="#E8B98A"/>
<rect x="127.90" y="374.30" width="0.90" height="1.00" fill="#EE8A92"/>
<rect x="130.60" y="374.68" width="0.90" height="1.00" fill="#9ACF95"/>
<rect x="131.50" y="374.60" width="0.90" height="1.00" fill="#EE8A92"/>
<rect x="135.10" y="374.66" width="0.90" height="1.00" fill="#EE8A92"/>
<rect x="136.00" y="374.54" width="0.90" height="1.00" fill="#B5A0D4"/>
<rect x="136.90" y="374.40" width="0.90" height="1.00" fill="#EE8A92"/>
<rect x="143.20" y="374.60" width="0.90" height="1.00" fill="#88B8E4"/>
<rect x="144.10" y="374.40" width="0.90" height="1.00" fill="#EE8A92"/>
<rect x="145.00" y="374.47" width="0.90" height="1.00" fill="#9ACF95"/>
<rect x="145.90" y="374.35" width="0.90" height="1.00" fill="#EE8A92"/>
<rect x="146.80" y="374.62" width="0.90" height="1.00" fill="#EE8A92"/>
<rect x="147.70" y="374.38" width="0.90" height="1.00" fill="#9ACF95"/>
<rect x="149.50" y="374.40" width="0.90" height="1.00" fill="#B5A0D4"/>
<rect x="153.10" y="374.55" width="0.90" height="1.00" fill="#EE8A92"/>
<rect x="154.00" y="374.60" width="0.90" height="1.00" fill="#88B8E4"/>
<rect x="154.90" y="374.51" width="0.90" height="1.00" fill="#E8B98A"/>
<rect x="155.80" y="374.43" width="0.90" height="1.00" fill="#EE8A92"/>
<rect x="156.70" y="374.32" width="0.90" height="1.00" fill="#88B8E4"/>
<rect x="157.60" y="374.32" width="0.90" height="1.00" fill="#E8B98A"/>
<rect x="160.30" y="374.50" width="0.90" height="1.00" fill="#B5A0D4"/>
<rect x="161.20" y="374.33" width="0.90" height="1.00" fill="#E8B98A"/>
<rect x="163.90" y="374.38" width="0.90" height="1.00" fill="#B5A0D4"/>
<rect x="164.80" y="374.35" width="0.90" height="1.00" fill="#EE8A92"/>
<rect x="166.60" y="374.33" width="0.90" height="1.00" fill="#88B8E4"/>
<rect x="167.50" y="374.48" width="0.90" height="1.00" fill="#9ACF95"/>
<rect x="169.30" y="374.62" width="0.90" height="1.00" fill="#9ACF95"/>
<rect x="173.80" y="374.50" width="0.95" height="0.90" fill="#8CCB88"/>
<rect x="173.80" y="373.81" width="0.95" height="1.00" fill="#EE8A92"/>
<rect x="174.70" y="374.50" width="0.95" height="0.90" fill="#8CCB88"/>
<rect x="174.70" y="373.98" width="0.95" height="1.00" fill="#E8B98A"/>
<rect x="175.60" y="374.50" width="0.95" height="0.90" fill="#8CCB88"/>
<rect x="175.60" y="373.62" width="0.95" height="1.00" fill="#EAA0B4"/>
<rect x="176.50" y="374.50" width="0.95" height="0.90" fill="#8CCB88"/>
<rect x="176.50" y="373.79" width="0.95" height="1.00" fill="#E8B98A"/>
<rect x="177.40" y="374.50" width="0.95" height="0.90" fill="#8CCB88"/>
<rect x="177.40" y="373.57" width="0.95" height="1.00" fill="#EE8A92"/>
<rect x="178.30" y="374.50" width="0.95" height="0.90" fill="#8CCB88"/>
<rect x="179.20" y="374.50" width="0.95" height="0.90" fill="#8CCB88"/>
<rect x="179.20" y="373.95" width="0.95" height="1.00" fill="#B5A0D4"/>
<rect x="180.10" y="374.50" width="0.95" height="0.90" fill="#8CCB88"/>
<rect x="180.10" y="373.85" width="0.95" height="1.00" fill="#EE8A92"/>
<rect x="181.00" y="374.50" width="0.95" height="0.90" fill="#8CCB88"/>
<rect x="181.00" y="373.94" width="0.95" height="1.00" fill="#E8B98A"/>
<rect x="181.90" y="374.50" width="0.95" height="0.90" fill="#8CCB88"/>
<rect x="181.90" y="373.87" width="0.95" height="1.00" fill="#EAA0B4"/>
<rect x="182.80" y="374.50" width="0.95" height="0.90" fill="#8CCB88"/>
<rect x="182.80" y="373.91" width="0.95" height="1.00" fill="#EE8A92"/>
<rect x="183.70" y="374.50" width="0.95" height="0.90" fill="#8CCB88"/>
<rect x="183.70" y="373.57" width="0.95" height="1.00" fill="#E8B98A"/>
<rect x="184.60" y="374.50" width="0.95" height="0.90" fill="#8CCB88"/>
<rect x="184.60" y="373.55" width="0.95" height="1.00" fill="#EE8A92"/>
<rect x="185.50" y="374.50" width="0.95" height="0.90" fill="#8CCB88"/>
<rect x="185.50" y="373.69" width="0.95" height="1.00" fill="#EE8A92"/>
<rect x="186.40" y="374.50" width="0.95" height="0.90" fill="#8CCB88"/>
<rect x="186.40" y="373.93" width="0.95" height="1.00" fill="#EE8A92"/>
<rect x="187.30" y="374.50" width="0.95" height="0.90" fill="#8CCB88"/>
<rect x="188.20" y="374.50" width="0.95" height="0.90" fill="#8CCB88"/>
<rect x="188.20" y="373.92" width="0.95" height="1.00" fill="#B5A0D4"/>
<rect x="189.10" y="374.50" width="0.95" height="0.90" fill="#8CCB88"/>
<rect x="189.10" y="373.90" width="0.95" height="1.00" fill="#EE8A92"/>
<rect x="190.00" y="374.50" width="0.95" height="0.90" fill="#8CCB88"/>
<rect x="190.90" y="374.50" width="0.95" height="0.90" fill="#8CCB88"/>
<rect x="190.90" y="373.76" width="0.95" height="1.00" fill="#88B8E4"/>
<rect x="191.80" y="374.50" width="0.95" height="0.90" fill="#8CCB88"/>
<rect x="191.80" y="373.87" width="0.95" height="1.00" fill="#EAA0B4"/>
<rect x="192.70" y="374.50" width="0.95" height="0.90" fill="#8CCB88"/>
<rect x="192.70" y="373.66" width="0.95" height="1.00" fill="#EAA0B4"/>
<rect x="193.60" y="374.50" width="0.95" height="0.90" fill="#8CCB88"/>
<rect x="193.60" y="373.54" width="0.95" height="1.00" fill="#88B8E4"/>
<rect x="194.50" y="374.50" width="0.95" height="0.90" fill="#8CCB88"/>
<rect x="194.50" y="373.73" width="0.95" height="1.00" fill="#EE8A92"/>
<rect x="195.40" y="374.50" width="0.95" height="0.90" fill="#8CCB88"/>
<rect x="195.40" y="373.70" width="0.95" height="1.00" fill="#B5A0D4"/>
<rect x="196.30" y="374.50" width="0.95" height="0.90" fill="#8CCB88"/>
<rect x="196.30" y="373.97" width="0.95" height="1.00" fill="#EAA0B4"/>
<rect x="197.20" y="374.50" width="0.95" height="0.90" fill="#8CCB88"/>
<rect x="197.20" y="373.54" width="0.95" height="1.00" fill="#EAA0B4"/>
<rect x="198.10" y="374.50" width="0.95" height="0.90" fill="#8CCB88"/>
<rect x="198.10" y="373.96" width="0.95" height="1.00" fill="#EE8A92"/>
<rect x="199.00" y="374.50" width="0.95" height="0.90" fill="#8CCB88"/>
<rect x="199.90" y="374.50" width="0.95" height="0.90" fill="#8CCB88"/>
<rect x="199.90" y="373.78" width="0.95" height="1.00" fill="#EAA0B4"/>
<rect x="205.30" y="374.60" width="0.90" height="0.80" fill="#EE8A92"/>
<rect x="211.60" y="374.60" width="0.90" height="0.80" fill="#88B8E4"/>
<rect x="212.50" y="374.60" width="0.90" height="0.80" fill="#B5A0D4"/>
<rect x="215.20" y="374.51" width="0.90" height="1.10" fill="#9ACF95"/>
<rect x="217.00" y="374.54" width="0.90" height="1.10" fill="#9ACF95"/>
<rect x="219.70" y="374.31" width="0.90" height="1.10" fill="#E8B98A"/>
<rect x="220.60" y="374.43" width="0.90" height="1.10" fill="#88B8E4"/>
<rect x="221.50" y="374.51" width="0.90" height="1.10" fill="#88B8E4"/>
<rect x="222.40" y="374.48" width="0.90" height="1.10" fill="#9ACF95"/>
<rect x="223.30" y="374.39" width="0.90" height="1.10" fill="#9ACF95"/>
<rect x="224.20" y="374.39" width="0.90" height="1.10" fill="#9ACF95"/>
<rect x="225.10" y="374.58" width="0.90" height="1.10" fill="#9ACF95"/>
<rect x="226.90" y="374.56" width="0.90" height="1.10" fill="#88B8E4"/>
<rect x="229.60" y="374.29" width="0.90" height="1.10" fill="#B5A0D4"/>
<rect x="230.50" y="374.28" width="0.90" height="1.10" fill="#B5A0D4"/>
<rect x="231.40" y="374.45" width="0.90" height="1.10" fill="#9ACF95"/>
<rect x="234.10" y="374.55" width="0.90" height="1.10" fill="#B5A0D4"/>
<rect x="235.00" y="374.24" width="0.90" height="1.10" fill="#EE8A92"/>
<rect x="235.90" y="374.31" width="0.90" height="1.10" fill="#B5A0D4"/>
<rect x="236.80" y="374.38" width="0.90" height="1.10" fill="#9ACF95"/>
<rect x="238.60" y="374.33" width="0.90" height="1.10" fill="#E8B98A"/>
<rect x="239.50" y="374.23" width="0.90" height="1.10" fill="#9ACF95"/>
<rect x="244.00" y="374.80" width="0.90" height="0.60" fill="#B5A0D4"/>
<rect x="244.90" y="374.80" width="0.90" height="0.60" fill="#9ACF95"/>
<rect x="245.80" y="374.80" width="0.90" height="0.60" fill="#B5A0D4"/>
<rect x="246.70" y="374.80" width="0.90" height="0.60" fill="#B5A0D4"/>
<rect x="253.90" y="374.80" width="0.90" height="0.60" fill="#B5A0D4"/>
<rect x="256.60" y="374.80" width="0.90" height="0.60" fill="#9ACF95"/>
<rect x="258.40" y="374.80" width="0.90" height="0.60" fill="#B5A0D4"/>
<rect x="261.10" y="374.80" width="0.90" height="0.60" fill="#88B8E4"/>
<rect x="262.00" y="374.80" width="0.90" height="0.60" fill="#9ACF95"/>
<rect x="262.90" y="374.80" width="0.90" height="0.60" fill="#88B8E4"/>
<rect x="268.30" y="374.80" width="0.90" height="0.60" fill="#9ACF95"/>
<rect x="270.10" y="374.80" width="0.90" height="0.60" fill="#EE8A92"/>
<rect x="271.00" y="374.80" width="0.90" height="0.60" fill="#88B8E4"/>
<rect x="299.20" y="365.30" width="0.60" height="9.80" fill="#9ACF95"/>
<rect x="299.20" y="365.30" width="0.60" height="2.20" fill="#EAA0B4"/>
<rect x="43.10" y="377.30" width="127.80" height="2.95" fill="#E8432E"/>
<rect x="173.00" y="377.30" width="143.00" height="2.95" fill="#2FA8D8"/>
<text class="s" x="40.70" y="380.30" font-size="3.50" text-anchor="end">ECM2</text>
<rect x="43.10" y="381.60" width="127.80" height="121.07" fill="#F7F7F7"/>
<rect x="173.00" y="381.60" width="143.00" height="121.07" fill="#F7F7F7"/>
<rect x="43.10" y="381.60" width="127.80" height="11.72" fill="#EDEDED"/>
<rect x="173.00" y="381.60" width="143.00" height="11.72" fill="#EDEDED"/>
<rect x="43.10" y="381.60" width="98.70" height="11.72" fill="#9ACF95"/>
<rect x="173.00" y="381.60" width="125.70" height="11.72" fill="#9ACF95"/>
<rect x="299.00" y="381.60" width="0.80" height="11.72" fill="#9ACF95"/>
<rect x="43.10" y="393.75" width="127.80" height="11.72" fill="#EDEDED"/>
<rect x="173.00" y="393.75" width="143.00" height="11.72" fill="#EDEDED"/>
<rect x="43.10" y="393.75" width="82.80" height="11.72" fill="#9ACF95"/>
<rect x="173.00" y="393.75" width="40.20" height="11.72" fill="#9ACF95"/>
<rect x="49.10" y="399.61" width="0.70" height="5.86" fill="#88B8E4"/>
<rect x="50.80" y="393.75" width="0.70" height="11.72" fill="#EE8A92"/>
<rect x="51.65" y="399.61" width="0.70" height="5.86" fill="#E8B98A"/>
<rect x="55.90" y="399.61" width="0.70" height="5.86" fill="#E8B98A"/>
<rect x="56.75" y="393.75" width="0.70" height="11.72" fill="#E8B98A"/>
<rect x="60.15" y="399.61" width="0.70" height="5.86" fill="#88B8E4"/>
<rect x="61.00" y="393.75" width="0.70" height="5.86" fill="#EE8A92"/>
<rect x="61.85" y="393.75" width="0.70" height="5.86" fill="#B5A0D4"/>
<rect x="66.10" y="393.75" width="0.70" height="11.72" fill="#EE8A92"/>
<rect x="68.65" y="393.75" width="0.70" height="5.86" fill="#B5A0D4"/>
<rect x="69.50" y="393.75" width="0.70" height="5.86" fill="#EE8A92"/>
<rect x="70.35" y="393.75" width="0.70" height="11.72" fill="#E8B98A"/>
<rect x="71.20" y="393.75" width="0.70" height="5.86" fill="#E8B98A"/>
<rect x="72.05" y="393.75" width="0.70" height="5.86" fill="#B5A0D4"/>
<rect x="72.90" y="393.75" width="0.70" height="11.72" fill="#88B8E4"/>
<rect x="73.75" y="393.75" width="0.70" height="11.72" fill="#EE8A92"/>
<rect x="74.60" y="393.75" width="0.70" height="11.72" fill="#B5A0D4"/>
<rect x="75.45" y="393.75" width="0.70" height="11.72" fill="#B5A0D4"/>
<rect x="76.30" y="393.75" width="0.70" height="11.72" fill="#88B8E4"/>
<rect x="78.00" y="393.75" width="0.70" height="11.72" fill="#88B8E4"/>
<rect x="79.70" y="393.75" width="0.70" height="5.86" fill="#B5A0D4"/>
<rect x="81.40" y="393.75" width="0.70" height="11.72" fill="#EE8A92"/>
<rect x="82.25" y="399.61" width="0.70" height="5.86" fill="#B5A0D4"/>
<rect x="83.95" y="393.75" width="0.70" height="11.72" fill="#E8B98A"/>
<rect x="85.65" y="393.75" width="0.70" height="11.72" fill="#F6F6B4"/>
<rect x="86.50" y="393.75" width="0.70" height="11.72" fill="#B5A0D4"/>
<rect x="87.35" y="393.75" width="0.70" height="11.72" fill="#88B8E4"/>
<rect x="89.05" y="393.75" width="0.70" height="11.72" fill="#88B8E4"/>
<rect x="93.30" y="393.75" width="0.70" height="11.72" fill="#E8B98A"/>
<rect x="95.85" y="393.75" width="0.70" height="11.72" fill="#88B8E4"/>
<rect x="98.40" y="393.75" width="0.70" height="5.86" fill="#B5A0D4"/>
<rect x="100.95" y="399.61" width="0.70" height="5.86" fill="#E8B98A"/>
<rect x="102.65" y="393.75" width="0.70" height="11.72" fill="#B5A0D4"/>
<rect x="108.60" y="399.61" width="0.70" height="5.86" fill="#88B8E4"/>
<rect x="111.15" y="393.75" width="0.70" height="11.72" fill="#88B8E4"/>
<rect x="112.85" y="393.75" width="0.70" height="5.86" fill="#B5A0D4"/>
<rect x="113.70" y="393.75" width="0.70" height="11.72" fill="#E8B98A"/>
<rect x="114.55" y="393.75" width="0.70" height="11.72" fill="#E8B98A"/>
<rect x="115.40" y="393.75" width="0.70" height="11.72" fill="#88B8E4"/>
<rect x="118.80" y="393.75" width="0.70" height="11.72" fill="#E8B98A"/>
<rect x="120.50" y="393.75" width="0.70" height="11.72" fill="#EE8A92"/>
<rect x="121.35" y="393.75" width="0.70" height="5.86" fill="#B5A0D4"/>
<rect x="122.20" y="393.75" width="0.70" height="11.72" fill="#EE8A92"/>
<rect x="123.05" y="393.75" width="0.70" height="11.72" fill="#B5A0D4"/>
<rect x="121.74" y="393.75" width="0.84" height="11.72" fill="#88B8E4"/>
<rect x="125.08" y="393.75" width="1.00" height="11.72" fill="#88B8E4"/>
<rect x="142.14" y="393.75" width="1.67" height="11.72" fill="#88B8E4"/>
<rect x="143.81" y="393.75" width="1.34" height="11.72" fill="#EE8A92"/>
<rect x="145.15" y="393.75" width="3.34" height="11.72" fill="#9ACF95"/>
<rect x="177.56" y="393.75" width="0.84" height="11.72" fill="#B5A0D4"/>
<rect x="180.07" y="393.75" width="0.84" height="11.72" fill="#EE8A92"/>
<rect x="185.92" y="393.75" width="1.17" height="11.72" fill="#B5A0D4"/>
<rect x="188.43" y="393.75" width="0.84" height="11.72" fill="#B5A0D4"/>
<rect x="193.44" y="393.75" width="0.84" height="11.72" fill="#EE8A92"/>
<rect x="195.95" y="393.75" width="0.84" height="11.72" fill="#88B8E4"/>
<rect x="202.64" y="393.75" width="1.17" height="11.72" fill="#88B8E4"/>
<rect x="203.81" y="393.75" width="1.00" height="11.72" fill="#EE8A92"/>
<rect x="209.83" y="393.75" width="1.17" height="11.72" fill="#88B8E4"/>
<rect x="299.23" y="393.75" width="0.50" height="11.72" fill="#9ACF95"/>
<rect x="299.73" y="393.75" width="3.34" height="11.72" fill="#9ACF95"/>
<rect x="43.10" y="405.90" width="127.80" height="11.72" fill="#EDEDED"/>
<rect x="173.00" y="405.90" width="143.00" height="11.72" fill="#EDEDED"/>
<rect x="43.10" y="405.90" width="0.75" height="11.72" fill="#EE8A92"/>
<rect x="43.85" y="405.90" width="0.75" height="11.72" fill="#A0A0DC"/>
<rect x="44.60" y="405.90" width="0.75" height="11.72" fill="#B5A0D4"/>
<rect x="45.35" y="405.90" width="0.75" height="11.72" fill="#EE8A92"/>
<rect x="46.10" y="405.90" width="1.50" height="11.72" fill="#88B8E4"/>
<rect x="47.60" y="405.90" width="1.50" height="11.72" fill="#B5A0D4"/>
<rect x="49.10" y="405.90" width="0.75" height="11.72" fill="#88B8E4"/>
<rect x="49.85" y="405.90" width="1.50" height="11.72" fill="#B5A0D4"/>
<rect x="51.35" y="405.90" width="1.50" height="11.72" fill="#B5A0D4"/>
<rect x="52.85" y="405.90" width="0.75" height="11.72" fill="#A0A0DC"/>
<rect x="53.60" y="405.90" width="0.75" height="11.72" fill="#B5A0D4"/>
<rect x="54.35" y="405.90" width="0.75" height="11.72" fill="#88B8E4"/>
<rect x="55.10" y="405.90" width="0.75" height="11.72" fill="#B5A0D4"/>
<rect x="55.85" y="405.90" width="0.75" height="11.72" fill="#EE8A92"/>
<rect x="56.60" y="405.90" width="0.75" height="11.72" fill="#88B8E4"/>
<rect x="57.35" y="405.90" width="0.75" height="11.72" fill="#B5A0D4"/>
<rect x="58.10" y="405.90" width="0.75" height="11.72" fill="#EE8A92"/>
<rect x="58.85" y="405.90" width="0.75" height="11.72" fill="#B5A0D4"/>
<rect x="59.60" y="405.90" width="0.75" height="11.72" fill="#E8B98A"/>
<rect x="60.35" y="405.90" width="0.75" height="11.72" fill="#B5A0D4"/>
<rect x="61.10" y="405.90" width="0.75" height="11.72" fill="#EE8A92"/>
<rect x="61.85" y="405.90" width="0.75" height="11.72" fill="#B5A0D4"/>
<rect x="62.60" y="405.90" width="0.75" height="11.72" fill="#EE8A92"/>
<rect x="63.35" y="405.90" width="0.75" height="11.72" fill="#EAA0B4"/>
<rect x="64.10" y="405.90" width="0.75" height="11.72" fill="#B5A0D4"/>
<rect x="64.85" y="405.90" width="1.50" height="11.72" fill="#EAA0B4"/>
<rect x="66.35" y="405.90" width="0.75" height="11.72" fill="#B5A0D4"/>
<rect x="67.10" y="405.90" width="0.75" height="11.72" fill="#EE8A92"/>
<rect x="67.85" y="405.90" width="1.50" height="11.72" fill="#B5A0D4"/>
<rect x="69.35" y="405.90" width="1.50" height="11.72" fill="#EE8A92"/>
<rect x="70.85" y="405.90" width="1.50" height="11.72" fill="#B5A0D4"/>
<rect x="72.35" y="405.90" width="1.50" height="11.72" fill="#B5A0D4"/>
<rect x="73.85" y="405.90" width="0.75" height="11.72" fill="#88B8E4"/>
<rect x="74.60" y="405.90" width="1.50" height="11.72" fill="#EE8A92"/>
<rect x="76.10" y="405.90" width="0.75" height="11.72" fill="#88B8E4"/>
<rect x="76.85" y="405.90" width="1.50" height="11.72" fill="#B5A0D4"/>
<rect x="78.35" y="405.90" width="0.75" height="11.72" fill="#EE8A92"/>
<rect x="79.10" y="405.90" width="0.75" height="11.72" fill="#E8B98A"/>
<rect x="79.85" y="405.90" width="0.75" height="11.72" fill="#88B8E4"/>
<rect x="80.60" y="405.90" width="0.75" height="11.72" fill="#EE8A92"/>
<rect x="81.35" y="405.90" width="0.75" height="11.72" fill="#88B8E4"/>
<rect x="82.10" y="405.90" width="0.75" height="11.72" fill="#EE8A92"/>
<rect x="82.85" y="405.90" width="0.75" height="11.72" fill="#B5A0D4"/>
<rect x="83.60" y="405.90" width="0.75" height="11.72" fill="#EE8A92"/>
<rect x="84.35" y="405.90" width="1.50" height="11.72" fill="#B5A0D4"/>
<rect x="85.85" y="405.90" width="0.75" height="11.72" fill="#EE8A92"/>
<rect x="86.60" y="405.90" width="0.75" height="11.72" fill="#88B8E4"/>
<rect x="87.35" y="405.90" width="0.75" height="11.72" fill="#A0A0DC"/>
<rect x="88.10" y="405.90" width="1.50" height="11.72" fill="#B5A0D4"/>
<rect x="89.60" y="405.90" width="0.75" height="11.72" fill="#EAA0B4"/>
<rect x="90.35" y="405.90" width="0.75" height="11.72" fill="#88B8E4"/>
<rect x="91.10" y="405.90" width="0.75" height="11.72" fill="#B5A0D4"/>
<rect x="91.85" y="405.90" width="1.50" height="11.72" fill="#B5A0D4"/>
<rect x="93.35" y="405.90" width="1.50" height="11.72" fill="#EE8A92"/>
<rect x="94.85" y="405.90" width="0.75" height="11.72" fill="#B5A0D4"/>
<rect x="95.60" y="405.90" width="1.50" height="11.72" fill="#EE8A92"/>
<rect x="97.10" y="405.90" width="0.75" height="11.72" fill="#A0A0DC"/>
<rect x="97.85" y="405.90" width="0.65" height="11.72" fill="#EAA0B4"/>
<rect x="48.00" y="405.90" width="2.20" height="11.72" fill="#88B8E4"/>
<rect x="58.20" y="405.90" width="2.80" height="11.72" fill="#88B8E4"/>
<rect x="126.42" y="405.90" width="2.34" height="11.72" fill="#88B8E4"/>
<rect x="128.76" y="405.90" width="1.34" height="11.72" fill="#EE8A92"/>
<rect x="142.14" y="405.90" width="2.68" height="11.72" fill="#88B8E4"/>
<rect x="148.49" y="405.90" width="0.67" height="11.72" fill="#E8B98A"/>
<rect x="149.16" y="405.90" width="0.67" height="11.72" fill="#9ACF95"/>
<rect x="173.00" y="405.90" width="1.50" height="11.72" fill="#EE8A92"/>
<rect x="174.50" y="405.90" width="0.75" height="11.72" fill="#B5A0D4"/>
<rect x="175.25" y="405.90" width="0.75" height="11.72" fill="#EE8A92"/>
<rect x="176.00" y="405.90" width="1.50" height="11.72" fill="#B5A0D4"/>
<rect x="177.50" y="405.90" width="0.75" height="11.72" fill="#EE8A92"/>
<rect x="178.25" y="405.90" width="0.75" height="11.72" fill="#A0A0DC"/>
<rect x="179.00" y="405.90" width="1.50" height="11.72" fill="#B5A0D4"/>
<rect x="180.50" y="405.90" width="0.75" height="11.72" fill="#88B8E4"/>
<rect x="181.25" y="405.90" width="0.75" height="11.72" fill="#B5A0D4"/>
<rect x="182.00" y="405.90" width="0.75" height="11.72" fill="#EE8A92"/>
<rect x="182.75" y="405.90" width="0.75" height="11.72" fill="#88B8E4"/>
<rect x="183.50" y="405.90" width="0.75" height="11.72" fill="#E8B98A"/>
<rect x="184.25" y="405.90" width="0.75" height="11.72" fill="#88B8E4"/>
<rect x="185.00" y="405.90" width="0.75" height="11.72" fill="#EE8A92"/>
<rect x="185.75" y="405.90" width="0.75" height="11.72" fill="#B5A0D4"/>
<rect x="186.50" y="405.90" width="0.75" height="11.72" fill="#E8B98A"/>
<rect x="187.25" y="405.90" width="0.75" height="11.72" fill="#EE8A92"/>
<rect x="188.00" y="405.90" width="1.50" height="11.72" fill="#B5A0D4"/>
<rect x="189.50" y="405.90" width="0.75" height="11.72" fill="#88B8E4"/>
<rect x="190.25" y="405.90" width="1.50" height="11.72" fill="#B5A0D4"/>
<rect x="191.75" y="405.90" width="0.75" height="11.72" fill="#88B8E4"/>
<rect x="192.50" y="405.90" width="0.75" height="11.72" fill="#EE8A92"/>
<rect x="193.25" y="405.90" width="0.75" height="11.72" fill="#B5A0D4"/>
<rect x="194.00" y="405.90" width="0.75" height="11.72" fill="#B5A0D4"/>
<rect x="194.75" y="405.90" width="1.50" height="11.72" fill="#88B8E4"/>
<rect x="196.25" y="405.90" width="1.50" height="11.72" fill="#B5A0D4"/>
<rect x="197.75" y="405.90" width="0.35" height="11.72" fill="#88B8E4"/>
<rect x="213.85" y="405.90" width="1.34" height="11.72" fill="#9ACF95"/>
<rect x="215.18" y="405.90" width="2.51" height="11.72" fill="#88B8E4"/>
<rect x="217.69" y="405.90" width="2.51" height="11.72" fill="#B5A0D4"/>
<rect x="299.23" y="405.90" width="0.50" height="11.72" fill="#9ACF95"/>
<rect x="299.73" y="405.90" width="1.00" height="11.72" fill="#88B8E4"/>
<rect x="300.74" y="405.90" width="0.67" height="11.72" fill="#B5A0D4"/>
<rect x="43.10" y="418.05" width="127.80" height="11.72" fill="#EDEDED"/>
<rect x="173.00" y="418.05" width="143.00" height="11.72" fill="#EDEDED"/>
<rect x="99.03" y="418.05" width="0.84" height="11.72" fill="#F6F6B4"/>
<rect x="130.43" y="418.05" width="1.34" height="11.72" fill="#88B8E4"/>
<rect x="131.77" y="418.05" width="1.67" height="11.72" fill="#9ACF95"/>
<rect x="133.44" y="418.05" width="0.50" height="11.72" fill="#B5A0D4"/>
<rect x="133.95" y="418.05" width="0.84" height="11.72" fill="#9ACF95"/>
<rect x="198.13" y="418.05" width="0.84" height="11.72" fill="#9ACF95"/>
<rect x="198.96" y="418.05" width="0.84" height="11.72" fill="#88B8E4"/>
<rect x="213.51" y="418.05" width="0.84" height="11.72" fill="#9ACF95"/>
<rect x="214.35" y="418.05" width="0.67" height="11.72" fill="#88B8E4"/>
<rect x="219.30" y="418.05" width="0.80" height="11.72" fill="#88B8E4"/>
<rect x="220.10" y="418.05" width="1.60" height="11.72" fill="#B5A0D4"/>
<rect x="221.70" y="418.05" width="0.80" height="11.72" fill="#88B8E4"/>
<rect x="222.50" y="418.05" width="0.80" height="11.72" fill="#E8B98A"/>
<rect x="223.30" y="418.05" width="1.60" height="11.72" fill="#88B8E4"/>
<rect x="224.90" y="418.05" width="0.80" height="11.72" fill="#88B8E4"/>
<rect x="225.70" y="418.05" width="0.80" height="11.72" fill="#E8B98A"/>
<rect x="226.50" y="418.05" width="0.80" height="11.72" fill="#9ACF95"/>
<rect x="227.30" y="418.05" width="0.80" height="11.72" fill="#88B8E4"/>
<rect x="228.10" y="418.05" width="1.60" height="11.72" fill="#9ACF95"/>
<rect x="229.70" y="418.05" width="0.80" height="11.72" fill="#E8B98A"/>
<rect x="230.50" y="418.05" width="0.80" height="11.72" fill="#9ACF95"/>
<rect x="231.30" y="418.05" width="0.80" height="11.72" fill="#88B8E4"/>
<rect x="232.10" y="418.05" width="1.60" height="11.72" fill="#88B8E4"/>
<rect x="233.70" y="418.05" width="0.80" height="11.72" fill="#9ACF95"/>
<rect x="234.50" y="418.05" width="1.60" height="11.72" fill="#B5A0D4"/>
<rect x="236.10" y="418.05" width="0.80" height="11.72" fill="#9ACF95"/>
<rect x="236.90" y="418.05" width="0.80" height="11.72" fill="#B5A0D4"/>
<rect x="237.70" y="418.05" width="0.80" height="11.72" fill="#9ACF95"/>
<rect x="238.50" y="418.05" width="0.80" height="11.72" fill="#88B8E4"/>
<rect x="239.30" y="418.05" width="0.80" height="11.72" fill="#B5A0D4"/>
<rect x="240.10" y="418.05" width="0.80" height="11.72" fill="#88B8E4"/>
<rect x="240.90" y="418.05" width="1.60" height="11.72" fill="#9ACF95"/>
<rect x="242.50" y="418.05" width="0.80" height="11.72" fill="#B5A0D4"/>
<rect x="243.30" y="418.05" width="0.80" height="11.72" fill="#88B8E4"/>
<rect x="244.10" y="418.05" width="0.80" height="11.72" fill="#9ACF95"/>
<rect x="244.90" y="418.05" width="0.80" height="11.72" fill="#B5A0D4"/>
<rect x="245.70" y="418.05" width="0.80" height="11.72" fill="#9ACF95"/>
<rect x="246.50" y="418.05" width="1.60" height="11.72" fill="#88B8E4"/>
<rect x="248.10" y="418.05" width="1.60" height="11.72" fill="#9ACF95"/>
<rect x="249.70" y="418.05" width="0.80" height="11.72" fill="#88B8E4"/>
<rect x="250.50" y="418.05" width="1.60" height="11.72" fill="#9ACF95"/>
<rect x="252.10" y="418.05" width="0.80" height="11.72" fill="#88B8E4"/>
<rect x="252.90" y="418.05" width="1.60" height="11.72" fill="#9ACF95"/>
<rect x="254.50" y="418.05" width="1.60" height="11.72" fill="#88B8E4"/>
<rect x="256.10" y="418.05" width="0.80" height="11.72" fill="#9ACF95"/>
<rect x="256.90" y="418.05" width="0.80" height="11.72" fill="#B5A0D4"/>
<rect x="257.70" y="418.05" width="1.60" height="11.72" fill="#9ACF95"/>
<rect x="259.30" y="418.05" width="1.60" height="11.72" fill="#88B8E4"/>
<rect x="260.90" y="418.05" width="0.50" height="11.72" fill="#88B8E4"/>
<rect x="299.23" y="418.05" width="0.50" height="11.72" fill="#9ACF95"/>
<rect x="303.08" y="418.05" width="0.67" height="11.72" fill="#EE8A92"/>
<rect x="303.75" y="418.05" width="1.00" height="11.72" fill="#9ACF95"/>
<rect x="304.75" y="418.05" width="1.67" height="11.72" fill="#88B8E4"/>
<rect x="306.42" y="418.05" width="1.17" height="11.72" fill="#9ACF95"/>
<rect x="307.59" y="418.05" width="0.84" height="11.72" fill="#88B8E4"/>
<rect x="308.43" y="418.05" width="0.84" height="11.72" fill="#9ACF95"/>
<rect x="43.10" y="430.20" width="127.80" height="11.72" fill="#EDEDED"/>
<rect x="173.00" y="430.20" width="143.00" height="11.72" fill="#EDEDED"/>
<rect x="99.03" y="430.20" width="0.84" height="11.72" fill="#F6F6B4"/>
<rect x="130.43" y="430.20" width="0.84" height="11.72" fill="#EE8A92"/>
<rect x="131.27" y="430.20" width="0.84" height="11.72" fill="#88B8E4"/>
<rect x="198.46" y="430.20" width="1.67" height="11.72" fill="#EE8A92"/>
<rect x="213.51" y="430.20" width="1.00" height="11.72" fill="#EE8A92"/>
<rect x="218.53" y="430.20" width="1.67" height="11.72" fill="#88B8E4"/>
<rect x="219.70" y="430.20" width="0.80" height="11.72" fill="#88B8E4"/>
<rect x="220.50" y="430.20" width="0.80" height="11.72" fill="#EE8A92"/>
<rect x="221.30" y="430.20" width="0.80" height="11.72" fill="#E8B98A"/>
<rect x="222.10" y="430.20" width="1.60" height="11.72" fill="#B5A0D4"/>
<rect x="223.70" y="430.20" width="0.80" height="11.72" fill="#88B8E4"/>
<rect x="224.50" y="430.20" width="0.80" height="11.72" fill="#E8B98A"/>
<rect x="225.30" y="430.20" width="1.60" height="11.72" fill="#88B8E4"/>
<rect x="226.90" y="430.20" width="0.80" height="11.72" fill="#EE8A92"/>
<rect x="227.70" y="430.20" width="1.60" height="11.72" fill="#88B8E4"/>
<rect x="229.30" y="430.20" width="0.80" height="11.72" fill="#B5A0D4"/>
<rect x="230.10" y="430.20" width="1.60" height="11.72" fill="#88B8E4"/>
<rect x="231.70" y="430.20" width="0.30" height="11.72" fill="#E8B98A"/>
<rect x="262.64" y="430.20" width="2.17" height="11.72" fill="#EE8A92"/>
<rect x="264.82" y="430.20" width="3.68" height="11.72" fill="#88B8E4"/>
<rect x="299.23" y="430.20" width="0.50" height="11.72" fill="#9ACF95"/>
<rect x="303.08" y="430.20" width="0.67" height="11.72" fill="#EE8A92"/>
<rect x="43.10" y="442.35" width="127.80" height="11.72" fill="#EDEDED"/>
<rect x="173.00" y="442.35" width="143.00" height="11.72" fill="#EDEDED"/>
<rect x="43.34" y="442.35" width="2.51" height="11.72" fill="#9ACF95"/>
<rect x="99.03" y="442.35" width="0.84" height="11.72" fill="#F6F6B4"/>
<rect x="100.00" y="442.35" width="0.84" height="5.86" fill="#88B8E4"/>
<rect x="100.00" y="448.21" width="0.84" height="5.86" fill="#F6F6B4"/>
<rect x="142.14" y="442.35" width="0.67" height="11.72" fill="#9ACF95"/>
<rect x="198.13" y="442.35" width="2.01" height="11.72" fill="#F6F6B4"/>
<rect x="213.18" y="442.35" width="1.34" height="11.72" fill="#9ACF95"/>
<rect x="218.86" y="442.35" width="1.34" height="11.72" fill="#88B8E4"/>
<rect x="220.00" y="442.35" width="1.34" height="11.72" fill="#F6F6B4"/>
<rect x="232.54" y="442.35" width="2.51" height="11.72" fill="#9ACF95"/>
<rect x="235.05" y="442.35" width="0.84" height="11.72" fill="#88B8E4"/>
<rect x="235.89" y="442.35" width="2.17" height="11.72" fill="#9ACF95"/>
<rect x="262.64" y="442.35" width="1.17" height="11.72" fill="#9ACF95"/>
<rect x="263.81" y="442.35" width="1.34" height="11.72" fill="#F6F6B4"/>
<rect x="269.00" y="442.35" width="1.17" height="11.72" fill="#88B8E4"/>
<rect x="270.17" y="442.35" width="2.01" height="11.72" fill="#9ACF95"/>
<rect x="299.23" y="442.35" width="0.50" height="11.72" fill="#EAA0B4"/>
<rect x="308.76" y="442.35" width="1.00" height="11.72" fill="#9ACF95"/>
<rect x="43.10" y="454.50" width="127.80" height="11.72" fill="#EDEDED"/>
<rect x="173.00" y="454.50" width="143.00" height="11.72" fill="#EDEDED"/>
<rect x="134.78" y="454.50" width="0.84" height="11.72" fill="#9ACF95"/>
<rect x="145.15" y="454.50" width="1.34" height="11.72" fill="#9ACF95"/>
<rect x="148.16" y="454.50" width="0.67" height="11.72" fill="#9ACF95"/>
<rect x="150.17" y="454.50" width="10.03" height="11.72" fill="#9ACF95"/>
<rect x="158.53" y="460.36" width="1.67" height="5.86" fill="#EE8A92"/>
<rect x="160.00" y="454.50" width="3.68" height="11.72" fill="#9ACF95"/>
<rect x="299.23" y="454.50" width="0.50" height="11.72" fill="#9ACF95"/>
<rect x="310.10" y="454.50" width="1.00" height="11.72" fill="#9ACF95"/>
<rect x="43.10" y="466.65" width="127.80" height="11.72" fill="#EDEDED"/>
<rect x="173.00" y="466.65" width="143.00" height="11.72" fill="#EDEDED"/>
<rect x="98.86" y="466.65" width="1.34" height="11.72" fill="#9ACF95"/>
<rect x="100.00" y="466.65" width="0.84" height="11.72" fill="#88B8E4"/>
<rect x="150.17" y="466.65" width="2.01" height="11.72" fill="#86A98C"/>
<rect x="152.68" y="466.65" width="1.67" height="11.72" fill="#EE8A92"/>
<rect x="164.18" y="466.65" width="1.17" height="11.72" fill="#9ACF95"/>
<rect x="165.35" y="466.65" width="0.84" height="11.72" fill="#EE8A92"/>
<rect x="166.19" y="466.65" width="1.17" height="11.72" fill="#9ACF95"/>
<rect x="167.36" y="466.65" width="0.84" height="11.72" fill="#EE8A92"/>
<rect x="168.19" y="466.65" width="1.17" height="11.72" fill="#9ACF95"/>
<rect x="169.36" y="466.65" width="1.00" height="11.72" fill="#EE8A92"/>
<rect x="200.13" y="466.65" width="0.84" height="11.72" fill="#9ACF95"/>
<rect x="238.06" y="466.65" width="0.84" height="11.72" fill="#EE8A92"/>
<rect x="272.17" y="466.65" width="0.67" height="11.72" fill="#88B8E4"/>
<rect x="299.23" y="466.65" width="0.50" height="11.72" fill="#9ACF95"/>
<rect x="43.10" y="478.80" width="127.80" height="11.72" fill="#EDEDED"/>
<rect x="173.00" y="478.80" width="143.00" height="11.72" fill="#EDEDED"/>
<rect x="45.02" y="478.80" width="0.84" height="11.72" fill="#EE8A92"/>
<rect x="100.50" y="478.80" width="0.84" height="11.72" fill="#B5A0D4"/>
<rect x="132.11" y="478.80" width="1.00" height="11.72" fill="#EAA0B4"/>
<rect x="134.78" y="478.80" width="1.17" height="11.72" fill="#EAA0B4"/>
<rect x="145.99" y="478.80" width="0.84" height="11.72" fill="#88B8E4"/>
<rect x="173.04" y="478.80" width="0.84" height="11.72" fill="#B5A0D4"/>
<rect x="173.88" y="478.80" width="0.84" height="11.72" fill="#88B8E4"/>
<rect x="198.46" y="478.80" width="1.67" height="11.72" fill="#9ACF95"/>
<rect x="200.47" y="478.80" width="1.34" height="11.72" fill="#88B8E4"/>
<rect x="221.34" y="478.80" width="1.17" height="11.72" fill="#88B8E4"/>
<rect x="232.04" y="478.80" width="1.34" height="11.72" fill="#88B8E4"/>
<rect x="238.90" y="478.80" width="1.17" height="11.72" fill="#88B8E4"/>
<rect x="273.18" y="478.80" width="1.00" height="11.72" fill="#B5A0D4"/>
<rect x="274.18" y="478.80" width="1.00" height="11.72" fill="#88B8E4"/>
<rect x="273.01" y="478.80" width="1.17" height="11.72" fill="#B5A0D4"/>
<rect x="274.18" y="484.66" width="1.17" height="5.86" fill="#EE8A92"/>
<rect x="298.76" y="478.80" width="1.00" height="11.72" fill="#EAA0B4"/>
<rect x="303.78" y="478.80" width="1.00" height="11.72" fill="#88B8E4"/>
<rect x="43.10" y="490.95" width="127.80" height="11.72" fill="#EDEDED"/>
<rect x="173.00" y="490.95" width="143.00" height="11.72" fill="#EDEDED"/>
<rect x="142.14" y="490.95" width="1.00" height="11.72" fill="#9ACF95"/>
<rect x="170.37" y="490.95" width="1.00" height="11.72" fill="#EAA0B4"/>
<rect x="299.77" y="490.95" width="1.17" height="11.72" fill="#9ACF95"/>
<rect x="303.11" y="490.95" width="5.02" height="11.72" fill="#9ACF95"/>
<rect x="310.97" y="490.95" width="5.02" height="11.72" fill="#9ACF95"/>
<text class="s" x="41.40" y="389.60" font-size="3.62" text-anchor="end">IDH1(<tspan font-style="italic">P</tspan> &lt; 0.0001)</text>
<text class="s" x="41.40" y="401.75" font-size="3.62" text-anchor="end">TP53(<tspan font-style="italic">P</tspan> &lt; 0.0001)</text>
<text class="s" x="41.40" y="413.90" font-size="3.62" text-anchor="end">ATRX(<tspan font-style="italic">P</tspan> &lt; 0.0001)</text>
<text class="s" x="41.40" y="426.05" font-size="3.62" text-anchor="end">CIC(<tspan font-style="italic">P</tspan> &lt; 0.0001)</text>
<text class="s" x="41.40" y="438.20" font-size="3.62" text-anchor="end">FUBP1(<tspan font-style="italic">P</tspan> &lt; 0.0001)</text>
<text class="s" x="41.40" y="450.35" font-size="3.62" text-anchor="end">NOTCH1(<tspan font-style="italic">P</tspan> &lt; 0.001)</text>
<text class="s" x="41.40" y="462.50" font-size="3.62" text-anchor="end">EGFR(<tspan font-style="italic">P</tspan> &lt; 0.0001)</text>
<text class="s" x="41.40" y="474.65" font-size="3.62" text-anchor="end">PTEN(<tspan font-style="italic">P</tspan> &lt; 0.01)</text>
<text class="s" x="41.40" y="486.80" font-size="3.62" text-anchor="end">ARID1A(<tspan font-style="italic">P</tspan> &lt; 0.05)</text>
<text class="s" x="41.40" y="498.95" font-size="3.62" text-anchor="end">IDH2(<tspan font-style="italic">P</tspan> &lt; 0.001)</text>
<text class="s" x="317.00" y="389.53" font-size="3.40">83.8%</text>
<text class="s" x="317.00" y="401.68" font-size="3.40">48.4%</text>
<text class="s" x="317.00" y="413.83" font-size="3.40">36.0%</text>
<text class="s" x="317.00" y="425.98" font-size="3.40">21.4%</text>
<text class="s" x="317.00" y="438.13" font-size="3.40">9.7%</text>
<text class="s" x="317.00" y="450.28" font-size="3.40">8.8%</text>
<text class="s" x="317.00" y="462.43" font-size="3.40">6.7%</text>
<text class="s" x="317.00" y="474.58" font-size="3.40">5.2%</text>
<text class="s" x="317.00" y="486.73" font-size="3.40">4.5%</text>
<text class="s" x="317.00" y="498.88" font-size="3.40">4.5%</text>
<rect x="328.30" y="381.60" width="27.90" height="11.72" fill="#33A02C"/>
<rect x="328.30" y="393.75" width="0.50" height="11.72" fill="#6A3D9A"/>
<rect x="328.80" y="393.75" width="15.70" height="11.72" fill="#33A02C"/>
<rect x="344.50" y="393.75" width="1.00" height="11.72" fill="#FF7F00"/>
<rect x="345.50" y="393.75" width="1.20" height="11.72" fill="#E31A1C"/>
<rect x="346.70" y="393.75" width="1.30" height="11.72" fill="#1F78B4"/>
<rect x="328.30" y="405.90" width="5.00" height="11.72" fill="#1F78B4"/>
<rect x="333.30" y="405.90" width="2.20" height="11.72" fill="#33A02C"/>
<rect x="335.50" y="405.90" width="1.60" height="11.72" fill="#1F78B4"/>
<rect x="337.10" y="405.90" width="1.20" height="11.72" fill="#6A3D9A"/>
<rect x="338.30" y="405.90" width="2.50" height="11.72" fill="#E31A1C"/>
<rect x="340.80" y="405.90" width="0.70" height="11.72" fill="#FF7F00"/>
<rect x="328.30" y="418.05" width="2.00" height="11.72" fill="#1F78B4"/>
<rect x="330.30" y="418.05" width="4.10" height="11.72" fill="#33A02C"/>
<rect x="334.40" y="418.05" width="1.10" height="11.72" fill="#6A3D9A"/>
<rect x="335.50" y="418.05" width="1.10" height="11.72" fill="#E31A1C"/>
<rect x="328.30" y="430.20" width="1.20" height="11.72" fill="#1F78B4"/>
<rect x="329.50" y="430.20" width="1.50" height="11.72" fill="#E31A1C"/>
<rect x="331.00" y="430.20" width="0.60" height="11.72" fill="#FF7F00"/>
<rect x="328.30" y="442.35" width="0.50" height="11.72" fill="#F4F48C"/>
<rect x="328.80" y="442.35" width="2.00" height="11.72" fill="#33A02C"/>
<rect x="330.80" y="442.35" width="0.80" height="11.72" fill="#1F78B4"/>
<rect x="328.30" y="454.50" width="2.50" height="11.72" fill="#33A02C"/>
<rect x="328.30" y="466.65" width="0.60" height="11.72" fill="#33A02C"/>
<rect x="328.90" y="466.65" width="0.30" height="11.72" fill="#E31A1C"/>
<rect x="329.20" y="466.65" width="0.30" height="11.72" fill="#6A3D9A"/>
<rect x="328.30" y="478.80" width="0.70" height="11.72" fill="#E31A1C"/>
<rect x="329.00" y="478.80" width="0.60" height="11.72" fill="#1F78B4"/>
<rect x="328.30" y="490.95" width="1.30" height="11.72" fill="#33A02C"/>
<rect x="328.10" y="380.50" width="28.40" height="0.40" fill="#333"/>
<rect x="356.30" y="379.70" width="0.35" height="1.00" fill="#333"/>
<rect x="328.15" y="379.70" width="0.35" height="1.00" fill="#333"/>
<text class="s" x="328.30" y="378.50" font-size="3.30" text-anchor="middle">0</text>
<rect x="335.35" y="379.70" width="0.35" height="1.00" fill="#333"/>
<text class="s" x="335.50" y="378.50" font-size="3.30" text-anchor="middle">100</text>
<rect x="342.65" y="379.70" width="0.35" height="1.00" fill="#333"/>
<text class="s" x="342.80" y="378.50" font-size="3.30" text-anchor="middle">200</text>
<rect x="350.15" y="379.70" width="0.35" height="1.00" fill="#333"/>
<text class="s" x="350.30" y="378.50" font-size="3.30" text-anchor="middle">300</text>
<text class="s" x="327.80" y="374.40" font-size="3.50">MutCount</text>
<circle cx="44.70" cy="511.70" r="1.90" fill="#33A02C"/>
<text class="s" x="47.20" y="512.90" font-size="3.75">Missense_Mutation</text>
<circle cx="44.70" cy="516.40" r="1.90" fill="#1F78B4"/>
<text class="s" x="47.20" y="517.60" font-size="3.75">Frame_Shift_Del</text>
<circle cx="44.70" cy="521.10" r="1.90" fill="#E31A1C"/>
<text class="s" x="47.20" y="522.30" font-size="3.75">Nonsense_Mutation</text>
<circle cx="44.70" cy="525.80" r="1.90" fill="#FF7F00"/>
<text class="s" x="47.20" y="527.00" font-size="3.75">Splice_Site</text>
<circle cx="44.70" cy="530.50" r="1.90" fill="#6A3D9A"/>
<text class="s" x="47.20" y="531.70" font-size="3.75">Frame_Shift_Ins</text>
<circle cx="44.70" cy="535.20" r="1.90" fill="#FFFF99"/>
<text class="s" x="47.20" y="536.40" font-size="3.75">In_Frame_Del</text>
<circle cx="44.70" cy="539.90" r="1.90" fill="#F46D43"/>
<text class="s" x="47.20" y="541.10" font-size="3.75">Translation_Start_Site</text>
<circle cx="44.70" cy="544.60" r="1.90" fill="#D53E4F"/>
<text class="s" x="47.20" y="545.80" font-size="3.75">In_Frame_Ins</text>
<text class="s" x="83.90" y="512.90" font-size="3.75">ECM2:</text>
<circle cx="85.20" cy="516.40" r="1.90" fill="#E8432E"/>
<text class="s" x="87.60" y="517.60" font-size="3.75">High</text>
<circle cx="85.20" cy="521.10" r="1.90" fill="#35B5E5"/>
<text class="s" x="87.60" y="522.30" font-size="3.75">Low</text>
</g>
</svg>
</body>
</html>
